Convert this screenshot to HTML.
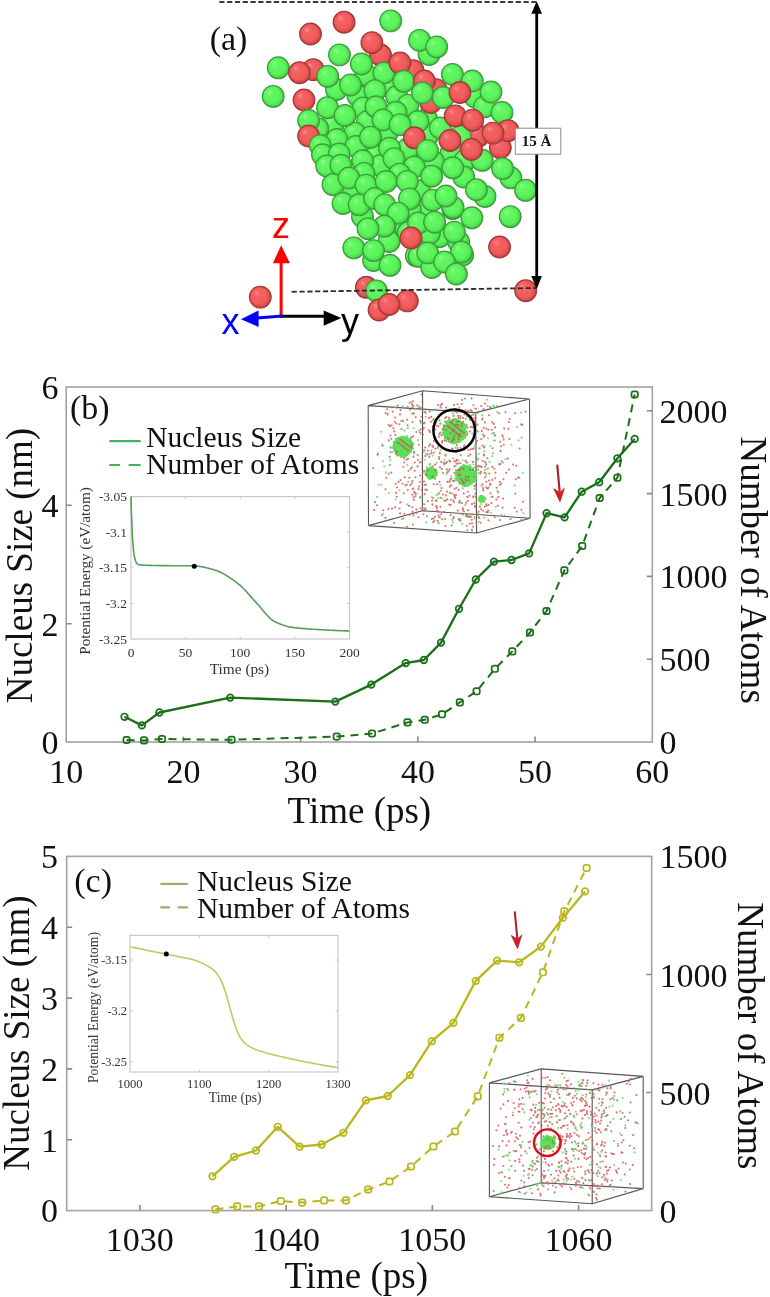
<!DOCTYPE html>
<html><head><meta charset="utf-8"><title>Nucleation figure</title>
<style>
html,body{margin:0;padding:0;background:#fff;}
body{width:770px;height:1297px;overflow:hidden;}
svg{display:block;}
</style></head><body>
<svg width="770" height="1297" viewBox="0 0 770 1297">
<defs><filter id="soft2" x="-5%" y="-5%" width="110%" height="110%"><feGaussianBlur stdDeviation="0.45"/></filter></defs>
<rect width="770" height="1297" fill="#fff"/>
<defs>
<radialGradient id="gG" cx="0.5" cy="0.5" r="0.5" fx="0.3" fy="0.27">
<stop offset="0" stop-color="#98fb98"/><stop offset="0.28" stop-color="#62f862"/><stop offset="0.72" stop-color="#5af35a"/><stop offset="0.88" stop-color="#50de50"/><stop offset="1" stop-color="#3aa63a"/></radialGradient>
<radialGradient id="gR" cx="0.5" cy="0.5" r="0.5" fx="0.3" fy="0.27">
<stop offset="0" stop-color="#fa9090"/><stop offset="0.28" stop-color="#f66262"/><stop offset="0.72" stop-color="#f05a5a"/><stop offset="0.88" stop-color="#dc4e4e"/><stop offset="1" stop-color="#aa3c3c"/></radialGradient>
<filter id="soft" x="-5%" y="-5%" width="110%" height="110%"><feGaussianBlur stdDeviation="0.45"/></filter>
</defs>
<g filter="url(#soft)">
<circle cx="419.5" cy="190.8" r="10.9" fill="url(#gG)" stroke="#3c9c3c" stroke-width="1.1"/>
<circle cx="398.7" cy="175.2" r="10.9" fill="url(#gG)" stroke="#3c9c3c" stroke-width="1.1"/>
<circle cx="411.2" cy="211.6" r="10.9" fill="url(#gG)" stroke="#3c9c3c" stroke-width="1.1"/>
<circle cx="419.5" cy="219.9" r="10.9" fill="url(#gG)" stroke="#3c9c3c" stroke-width="1.1"/>
<circle cx="428.8" cy="233.4" r="10.9" fill="url(#gG)" stroke="#3c9c3c" stroke-width="1.1"/>
<circle cx="389.4" cy="240.6" r="10.9" fill="url(#gG)" stroke="#3c9c3c" stroke-width="1.1"/>
<circle cx="406.0" cy="229.2" r="10.9" fill="url(#gG)" stroke="#3c9c3c" stroke-width="1.1"/>
<circle cx="439.5" cy="236.6" r="10.9" fill="url(#gG)" stroke="#3c9c3c" stroke-width="1.1"/>
<circle cx="422.3" cy="235.0" r="10.9" fill="url(#gG)" stroke="#3c9c3c" stroke-width="1.1"/>
<circle cx="423.9" cy="211.7" r="10.9" fill="url(#gG)" stroke="#3c9c3c" stroke-width="1.1"/>
<circle cx="452.7" cy="208.6" r="10.9" fill="url(#gG)" stroke="#3c9c3c" stroke-width="1.1"/>
<circle cx="380.5" cy="55.0" r="10.9" fill="url(#gR)" stroke="#a03a3a" stroke-width="1.1"/>
<circle cx="313.2" cy="69.6" r="10.9" fill="url(#gR)" stroke="#a03a3a" stroke-width="1.1"/>
<circle cx="365.8" cy="74.8" r="10.9" fill="url(#gG)" stroke="#3c9c3c" stroke-width="1.1"/>
<circle cx="390.8" cy="87.3" r="10.9" fill="url(#gG)" stroke="#3c9c3c" stroke-width="1.1"/>
<circle cx="336.5" cy="89.5" r="10.9" fill="url(#gG)" stroke="#3c9c3c" stroke-width="1.1"/>
<circle cx="358.0" cy="95.8" r="10.9" fill="url(#gG)" stroke="#3c9c3c" stroke-width="1.1"/>
<circle cx="396.8" cy="96.5" r="10.9" fill="url(#gG)" stroke="#3c9c3c" stroke-width="1.1"/>
<circle cx="407.9" cy="105.2" r="10.9" fill="url(#gG)" stroke="#3c9c3c" stroke-width="1.1"/>
<circle cx="363.0" cy="108.0" r="10.9" fill="url(#gG)" stroke="#3c9c3c" stroke-width="1.1"/>
<circle cx="367.5" cy="121.5" r="10.9" fill="url(#gG)" stroke="#3c9c3c" stroke-width="1.1"/>
<circle cx="426.6" cy="119.2" r="10.9" fill="url(#gG)" stroke="#3c9c3c" stroke-width="1.1"/>
<circle cx="333.1" cy="124.7" r="10.9" fill="url(#gG)" stroke="#3c9c3c" stroke-width="1.1"/>
<circle cx="354.9" cy="133.2" r="10.9" fill="url(#gG)" stroke="#3c9c3c" stroke-width="1.1"/>
<circle cx="387.7" cy="131.7" r="10.9" fill="url(#gG)" stroke="#3c9c3c" stroke-width="1.1"/>
<circle cx="428.2" cy="134.8" r="10.9" fill="url(#gG)" stroke="#3c9c3c" stroke-width="1.1"/>
<circle cx="407.9" cy="148.8" r="10.9" fill="url(#gG)" stroke="#3c9c3c" stroke-width="1.1"/>
<circle cx="317.7" cy="128.6" r="10.9" fill="url(#gG)" stroke="#3c9c3c" stroke-width="1.1"/>
<circle cx="376.4" cy="155.6" r="10.9" fill="url(#gG)" stroke="#3c9c3c" stroke-width="1.1"/>
<circle cx="380.5" cy="165.5" r="10.9" fill="url(#gG)" stroke="#3c9c3c" stroke-width="1.1"/>
<circle cx="353.0" cy="186.8" r="10.9" fill="url(#gG)" stroke="#3c9c3c" stroke-width="1.1"/>
<circle cx="451.0" cy="153.3" r="10.9" fill="url(#gG)" stroke="#3c9c3c" stroke-width="1.1"/>
<circle cx="465.2" cy="160.3" r="10.9" fill="url(#gG)" stroke="#3c9c3c" stroke-width="1.1"/>
<circle cx="510.8" cy="177.8" r="10.9" fill="url(#gG)" stroke="#3c9c3c" stroke-width="1.1"/>
<circle cx="433.5" cy="161.6" r="10.9" fill="url(#gG)" stroke="#3c9c3c" stroke-width="1.1"/>
<circle cx="463.7" cy="177.0" r="10.9" fill="url(#gG)" stroke="#3c9c3c" stroke-width="1.1"/>
<circle cx="485.0" cy="196.5" r="10.9" fill="url(#gG)" stroke="#3c9c3c" stroke-width="1.1"/>
<circle cx="453.1" cy="207.4" r="10.9" fill="url(#gG)" stroke="#3c9c3c" stroke-width="1.1"/>
<circle cx="458.6" cy="241.8" r="10.9" fill="url(#gG)" stroke="#3c9c3c" stroke-width="1.1"/>
<circle cx="429.4" cy="233.5" r="10.9" fill="url(#gG)" stroke="#3c9c3c" stroke-width="1.1"/>
<circle cx="362.5" cy="216.6" r="10.9" fill="url(#gG)" stroke="#3c9c3c" stroke-width="1.1"/>
<circle cx="410.4" cy="209.4" r="10.9" fill="url(#gG)" stroke="#3c9c3c" stroke-width="1.1"/>
<circle cx="408.2" cy="232.7" r="10.9" fill="url(#gG)" stroke="#3c9c3c" stroke-width="1.1"/>
<circle cx="389.0" cy="241.5" r="10.9" fill="url(#gG)" stroke="#3c9c3c" stroke-width="1.1"/>
<circle cx="373.6" cy="260.5" r="10.9" fill="url(#gG)" stroke="#3c9c3c" stroke-width="1.1"/>
<circle cx="416.4" cy="255.9" r="10.9" fill="url(#gG)" stroke="#3c9c3c" stroke-width="1.1"/>
<circle cx="462.7" cy="255.0" r="10.9" fill="url(#gG)" stroke="#3c9c3c" stroke-width="1.1"/>
<circle cx="419.1" cy="256.4" r="10.9" fill="url(#gG)" stroke="#3c9c3c" stroke-width="1.1"/>
<circle cx="431.8" cy="267.5" r="10.9" fill="url(#gG)" stroke="#3c9c3c" stroke-width="1.1"/>
<circle cx="429.1" cy="54.5" r="10.9" fill="url(#gG)" stroke="#3c9c3c" stroke-width="1.1"/>
<circle cx="413.1" cy="70.6" r="10.9" fill="url(#gR)" stroke="#a03a3a" stroke-width="1.1"/>
<circle cx="436.0" cy="89.6" r="10.9" fill="url(#gR)" stroke="#a03a3a" stroke-width="1.1"/>
<circle cx="430.7" cy="102.5" r="10.9" fill="url(#gR)" stroke="#a03a3a" stroke-width="1.1"/>
<circle cx="478.7" cy="136.0" r="10.9" fill="url(#gR)" stroke="#a03a3a" stroke-width="1.1"/>
<circle cx="460.5" cy="136.4" r="10.9" fill="url(#gG)" stroke="#3c9c3c" stroke-width="1.1"/>
<circle cx="475.0" cy="97.0" r="10.9" fill="url(#gG)" stroke="#3c9c3c" stroke-width="1.1"/>
<circle cx="484.5" cy="106.8" r="10.9" fill="url(#gG)" stroke="#3c9c3c" stroke-width="1.1"/>
<circle cx="500.3" cy="147.6" r="10.9" fill="url(#gR)" stroke="#a03a3a" stroke-width="1.1"/>
<circle cx="482.2" cy="160.3" r="10.9" fill="url(#gG)" stroke="#3c9c3c" stroke-width="1.1"/>
<circle cx="310.5" cy="34.0" r="10.9" fill="url(#gR)" stroke="#a03a3a" stroke-width="1.1"/>
<circle cx="344.1" cy="22.2" r="10.9" fill="url(#gR)" stroke="#a03a3a" stroke-width="1.1"/>
<circle cx="390.7" cy="20.9" r="10.9" fill="url(#gG)" stroke="#3c9c3c" stroke-width="1.1"/>
<circle cx="371.9" cy="42.7" r="10.9" fill="url(#gR)" stroke="#a03a3a" stroke-width="1.1"/>
<circle cx="339.5" cy="54.9" r="10.9" fill="url(#gG)" stroke="#3c9c3c" stroke-width="1.1"/>
<circle cx="278.3" cy="67.8" r="10.9" fill="url(#gG)" stroke="#3c9c3c" stroke-width="1.1"/>
<circle cx="299.5" cy="72.7" r="10.9" fill="url(#gR)" stroke="#a03a3a" stroke-width="1.1"/>
<circle cx="327.7" cy="76.4" r="10.9" fill="url(#gG)" stroke="#3c9c3c" stroke-width="1.1"/>
<circle cx="361.4" cy="64.0" r="10.9" fill="url(#gG)" stroke="#3c9c3c" stroke-width="1.1"/>
<circle cx="350.5" cy="85.0" r="10.9" fill="url(#gG)" stroke="#3c9c3c" stroke-width="1.1"/>
<circle cx="384.0" cy="73.0" r="10.9" fill="url(#gG)" stroke="#3c9c3c" stroke-width="1.1"/>
<circle cx="375.0" cy="90.6" r="10.9" fill="url(#gG)" stroke="#3c9c3c" stroke-width="1.1"/>
<circle cx="419.6" cy="40.4" r="10.9" fill="url(#gG)" stroke="#3c9c3c" stroke-width="1.1"/>
<circle cx="436.7" cy="46.9" r="10.9" fill="url(#gG)" stroke="#3c9c3c" stroke-width="1.1"/>
<circle cx="400.0" cy="63.0" r="10.9" fill="url(#gR)" stroke="#a03a3a" stroke-width="1.1"/>
<circle cx="403.8" cy="81.3" r="10.9" fill="url(#gG)" stroke="#3c9c3c" stroke-width="1.1"/>
<circle cx="424.4" cy="81.0" r="10.9" fill="url(#gR)" stroke="#a03a3a" stroke-width="1.1"/>
<circle cx="422.4" cy="93.0" r="10.9" fill="url(#gG)" stroke="#3c9c3c" stroke-width="1.1"/>
<circle cx="443.2" cy="97.5" r="10.9" fill="url(#gG)" stroke="#3c9c3c" stroke-width="1.1"/>
<circle cx="452.4" cy="74.4" r="10.9" fill="url(#gG)" stroke="#3c9c3c" stroke-width="1.1"/>
<circle cx="472.3" cy="81.0" r="10.9" fill="url(#gG)" stroke="#3c9c3c" stroke-width="1.1"/>
<circle cx="459.9" cy="92.5" r="10.9" fill="url(#gR)" stroke="#a03a3a" stroke-width="1.1"/>
<circle cx="491.0" cy="92.0" r="10.9" fill="url(#gG)" stroke="#3c9c3c" stroke-width="1.1"/>
<circle cx="502.0" cy="112.5" r="10.9" fill="url(#gG)" stroke="#3c9c3c" stroke-width="1.1"/>
<circle cx="273.2" cy="96.4" r="10.9" fill="url(#gG)" stroke="#3c9c3c" stroke-width="1.1"/>
<circle cx="304.0" cy="100.0" r="10.9" fill="url(#gR)" stroke="#a03a3a" stroke-width="1.1"/>
<circle cx="327.5" cy="107.7" r="10.9" fill="url(#gG)" stroke="#3c9c3c" stroke-width="1.1"/>
<circle cx="345.0" cy="115.5" r="10.9" fill="url(#gG)" stroke="#3c9c3c" stroke-width="1.1"/>
<circle cx="308.6" cy="120.5" r="10.9" fill="url(#gG)" stroke="#3c9c3c" stroke-width="1.1"/>
<circle cx="308.6" cy="136.0" r="10.9" fill="url(#gR)" stroke="#a03a3a" stroke-width="1.1"/>
<circle cx="337.0" cy="139.5" r="10.9" fill="url(#gG)" stroke="#3c9c3c" stroke-width="1.1"/>
<circle cx="376.0" cy="106.8" r="10.9" fill="url(#gG)" stroke="#3c9c3c" stroke-width="1.1"/>
<circle cx="396.0" cy="112.3" r="10.9" fill="url(#gG)" stroke="#3c9c3c" stroke-width="1.1"/>
<circle cx="383.0" cy="120.0" r="10.9" fill="url(#gG)" stroke="#3c9c3c" stroke-width="1.1"/>
<circle cx="355.8" cy="146.5" r="10.9" fill="url(#gG)" stroke="#3c9c3c" stroke-width="1.1"/>
<circle cx="370.5" cy="137.2" r="10.9" fill="url(#gG)" stroke="#3c9c3c" stroke-width="1.1"/>
<circle cx="418.0" cy="121.5" r="10.9" fill="url(#gG)" stroke="#3c9c3c" stroke-width="1.1"/>
<circle cx="400.1" cy="124.7" r="10.9" fill="url(#gG)" stroke="#3c9c3c" stroke-width="1.1"/>
<circle cx="440.3" cy="128.0" r="10.9" fill="url(#gG)" stroke="#3c9c3c" stroke-width="1.1"/>
<circle cx="455.2" cy="115.9" r="10.9" fill="url(#gR)" stroke="#a03a3a" stroke-width="1.1"/>
<circle cx="472.7" cy="120.2" r="10.9" fill="url(#gR)" stroke="#a03a3a" stroke-width="1.1"/>
<circle cx="508.0" cy="130.7" r="10.9" fill="url(#gR)" stroke="#a03a3a" stroke-width="1.1"/>
<circle cx="493.0" cy="133.1" r="10.9" fill="url(#gR)" stroke="#a03a3a" stroke-width="1.1"/>
<circle cx="471.5" cy="149.4" r="10.9" fill="url(#gR)" stroke="#a03a3a" stroke-width="1.1"/>
<circle cx="450.0" cy="140.5" r="10.9" fill="url(#gR)" stroke="#a03a3a" stroke-width="1.1"/>
<circle cx="414.4" cy="137.8" r="10.9" fill="url(#gR)" stroke="#a03a3a" stroke-width="1.1"/>
<circle cx="389.5" cy="148.3" r="10.9" fill="url(#gG)" stroke="#3c9c3c" stroke-width="1.1"/>
<circle cx="427.6" cy="150.6" r="10.9" fill="url(#gG)" stroke="#3c9c3c" stroke-width="1.1"/>
<circle cx="320.3" cy="145.5" r="10.9" fill="url(#gG)" stroke="#3c9c3c" stroke-width="1.1"/>
<circle cx="322.5" cy="154.8" r="10.9" fill="url(#gG)" stroke="#3c9c3c" stroke-width="1.1"/>
<circle cx="339.2" cy="154.0" r="10.9" fill="url(#gG)" stroke="#3c9c3c" stroke-width="1.1"/>
<circle cx="362.7" cy="160.8" r="10.9" fill="url(#gG)" stroke="#3c9c3c" stroke-width="1.1"/>
<circle cx="394.0" cy="158.6" r="10.9" fill="url(#gG)" stroke="#3c9c3c" stroke-width="1.1"/>
<circle cx="414.3" cy="167.0" r="10.9" fill="url(#gG)" stroke="#3c9c3c" stroke-width="1.1"/>
<circle cx="326.7" cy="166.0" r="10.9" fill="url(#gG)" stroke="#3c9c3c" stroke-width="1.1"/>
<circle cx="340.9" cy="165.3" r="10.9" fill="url(#gG)" stroke="#3c9c3c" stroke-width="1.1"/>
<circle cx="364.0" cy="173.4" r="10.9" fill="url(#gG)" stroke="#3c9c3c" stroke-width="1.1"/>
<circle cx="399.6" cy="174.2" r="10.9" fill="url(#gG)" stroke="#3c9c3c" stroke-width="1.1"/>
<circle cx="333.0" cy="184.7" r="10.9" fill="url(#gG)" stroke="#3c9c3c" stroke-width="1.1"/>
<circle cx="349.0" cy="178.0" r="10.9" fill="url(#gG)" stroke="#3c9c3c" stroke-width="1.1"/>
<circle cx="366.0" cy="185.1" r="10.9" fill="url(#gG)" stroke="#3c9c3c" stroke-width="1.1"/>
<circle cx="386.2" cy="181.5" r="10.9" fill="url(#gG)" stroke="#3c9c3c" stroke-width="1.1"/>
<circle cx="407.4" cy="181.4" r="10.9" fill="url(#gG)" stroke="#3c9c3c" stroke-width="1.1"/>
<circle cx="431.7" cy="176.2" r="10.9" fill="url(#gG)" stroke="#3c9c3c" stroke-width="1.1"/>
<circle cx="432.6" cy="200.2" r="10.9" fill="url(#gG)" stroke="#3c9c3c" stroke-width="1.1"/>
<circle cx="452.8" cy="167.8" r="10.9" fill="url(#gG)" stroke="#3c9c3c" stroke-width="1.1"/>
<circle cx="502.6" cy="168.6" r="10.9" fill="url(#gG)" stroke="#3c9c3c" stroke-width="1.1"/>
<circle cx="525.6" cy="190.3" r="10.9" fill="url(#gG)" stroke="#3c9c3c" stroke-width="1.1"/>
<circle cx="476.4" cy="189.7" r="10.9" fill="url(#gG)" stroke="#3c9c3c" stroke-width="1.1"/>
<circle cx="446.0" cy="196.0" r="10.9" fill="url(#gG)" stroke="#3c9c3c" stroke-width="1.1"/>
<circle cx="343.0" cy="203.5" r="10.9" fill="url(#gG)" stroke="#3c9c3c" stroke-width="1.1"/>
<circle cx="359.2" cy="204.8" r="10.9" fill="url(#gG)" stroke="#3c9c3c" stroke-width="1.1"/>
<circle cx="374.6" cy="198.5" r="10.9" fill="url(#gG)" stroke="#3c9c3c" stroke-width="1.1"/>
<circle cx="384.7" cy="204.8" r="10.9" fill="url(#gG)" stroke="#3c9c3c" stroke-width="1.1"/>
<circle cx="409.5" cy="198.9" r="10.9" fill="url(#gG)" stroke="#3c9c3c" stroke-width="1.1"/>
<circle cx="398.2" cy="213.2" r="10.9" fill="url(#gG)" stroke="#3c9c3c" stroke-width="1.1"/>
<circle cx="384.4" cy="226.2" r="10.9" fill="url(#gG)" stroke="#3c9c3c" stroke-width="1.1"/>
<circle cx="368.0" cy="228.7" r="10.9" fill="url(#gG)" stroke="#3c9c3c" stroke-width="1.1"/>
<circle cx="418.5" cy="223.0" r="10.9" fill="url(#gG)" stroke="#3c9c3c" stroke-width="1.1"/>
<circle cx="434.6" cy="222.2" r="10.9" fill="url(#gG)" stroke="#3c9c3c" stroke-width="1.1"/>
<circle cx="454.4" cy="232.1" r="10.9" fill="url(#gG)" stroke="#3c9c3c" stroke-width="1.1"/>
<circle cx="471.9" cy="217.8" r="10.9" fill="url(#gG)" stroke="#3c9c3c" stroke-width="1.1"/>
<circle cx="510.2" cy="216.6" r="10.9" fill="url(#gG)" stroke="#3c9c3c" stroke-width="1.1"/>
<circle cx="499.6" cy="247.0" r="10.9" fill="url(#gR)" stroke="#a03a3a" stroke-width="1.1"/>
<circle cx="411.0" cy="238.0" r="10.9" fill="url(#gR)" stroke="#a03a3a" stroke-width="1.1"/>
<circle cx="353.8" cy="247.9" r="10.9" fill="url(#gG)" stroke="#3c9c3c" stroke-width="1.1"/>
<circle cx="373.6" cy="250.6" r="10.9" fill="url(#gG)" stroke="#3c9c3c" stroke-width="1.1"/>
<circle cx="390.0" cy="265.3" r="10.9" fill="url(#gG)" stroke="#3c9c3c" stroke-width="1.1"/>
<circle cx="427.7" cy="253.0" r="10.9" fill="url(#gG)" stroke="#3c9c3c" stroke-width="1.1"/>
<circle cx="461.5" cy="252.0" r="10.9" fill="url(#gG)" stroke="#3c9c3c" stroke-width="1.1"/>
<circle cx="444.5" cy="262.0" r="10.9" fill="url(#gG)" stroke="#3c9c3c" stroke-width="1.1"/>
<circle cx="456.4" cy="274.0" r="10.9" fill="url(#gG)" stroke="#3c9c3c" stroke-width="1.1"/>
<circle cx="366.4" cy="287.3" r="10.9" fill="url(#gR)" stroke="#a03a3a" stroke-width="1.1"/>
<circle cx="376.4" cy="290.9" r="10.9" fill="url(#gG)" stroke="#3c9c3c" stroke-width="1.1"/>
<circle cx="407.3" cy="300.9" r="10.9" fill="url(#gR)" stroke="#a03a3a" stroke-width="1.1"/>
<circle cx="379.1" cy="310.0" r="10.9" fill="url(#gR)" stroke="#a03a3a" stroke-width="1.1"/>
<circle cx="389.1" cy="304.5" r="10.9" fill="url(#gR)" stroke="#a03a3a" stroke-width="1.1"/>
<circle cx="525.7" cy="290.7" r="10.9" fill="url(#gR)" stroke="#a03a3a" stroke-width="1.1"/>
<circle cx="260.3" cy="297.1" r="10.9" fill="url(#gR)" stroke="#a03a3a" stroke-width="1.1"/>
</g>
<path d="M219.3 2H536.4" stroke="#3a3a3a" stroke-width="2" stroke-dasharray="5.2 2.6"/>
<path d="M291.7 291.8L536.4 288" stroke="#2a2a2a" stroke-width="1.8" stroke-dasharray="5.2 2.6"/>
<path d="M536.7 12V278" stroke="#000" stroke-width="2.8"/>
<path d="M531.3 13.8L536.7 1.2L542 13.8Z" fill="#000"/>
<path d="M531.3 276L536.7 289L542 276Z" fill="#000"/>
<rect x="515.3" y="128.2" width="45.5" height="26" fill="#fff" stroke="#8c8c8c" stroke-width="1"/>
<text x="536.6" y="145.6" font-family="'Liberation Serif','Times New Roman',serif" font-size="15" text-anchor="middle" fill="#111" font-weight="bold">15 &#197;</text>
<text x="209.7" y="50.0" font-family="'Liberation Serif','Times New Roman',serif" font-size="34" text-anchor="start" fill="#111" font-weight="normal">(a)</text>
<path d="M281.1 316V262" stroke="#ff0000" stroke-width="3"/>
<path d="M272.9 263.2L281.1 245.3L289.9 263.2Z" fill="#ff0000"/>
<path d="M279.6 316.2H324.5" stroke="#000" stroke-width="3"/>
<path d="M323.7 310.4L341.3 318.1L323.7 325.8Z" fill="#000"/>
<path d="M282.6 316L257 318" stroke="#0000ff" stroke-width="3"/>
<path d="M258.6 310.4L240.9 319.2L258.6 327Z" fill="#0000ff"/>
<text x="272.0" y="237.5" font-family="'Liberation Sans',Arial,sans-serif" font-size="36" text-anchor="start" fill="#ff0000" font-weight="normal">z</text>
<text x="341.0" y="333.5" font-family="'Liberation Sans',Arial,sans-serif" font-size="36" text-anchor="start" fill="#000" font-weight="normal">y</text>
<text x="221.5" y="333.6" font-family="'Liberation Sans',Arial,sans-serif" font-size="36" text-anchor="start" fill="#0000ff" font-weight="normal">x</text>
<rect x="66.2" y="387.0" width="586.1" height="355.0" fill="none" stroke="#a2a2a2" stroke-width="1.6"/>
<path d="M183.4 742.0V736.5M300.6 742.0V736.5M417.9 742.0V736.5M535.1 742.0V736.5M66.2 623.7H71.7M66.2 505.3H71.7M652.3 659.2H646.8M652.3 576.4H646.8M652.3 493.6H646.8M652.3 410.8H646.8" stroke="#8a8a8a" stroke-width="1.6" fill="none"/>
<text x="66.2" y="782.5" font-family="'Liberation Serif','Times New Roman',serif" font-size="34" text-anchor="middle" fill="#111" font-weight="normal">10</text>
<text x="183.4" y="782.5" font-family="'Liberation Serif','Times New Roman',serif" font-size="34" text-anchor="middle" fill="#111" font-weight="normal">20</text>
<text x="300.6" y="782.5" font-family="'Liberation Serif','Times New Roman',serif" font-size="34" text-anchor="middle" fill="#111" font-weight="normal">30</text>
<text x="417.9" y="782.5" font-family="'Liberation Serif','Times New Roman',serif" font-size="34" text-anchor="middle" fill="#111" font-weight="normal">40</text>
<text x="535.1" y="782.5" font-family="'Liberation Serif','Times New Roman',serif" font-size="34" text-anchor="middle" fill="#111" font-weight="normal">50</text>
<text x="652.3" y="782.5" font-family="'Liberation Serif','Times New Roman',serif" font-size="34" text-anchor="middle" fill="#111" font-weight="normal">60</text>
<text x="58.5" y="753.8" font-family="'Liberation Serif','Times New Roman',serif" font-size="34" text-anchor="end" fill="#111" font-weight="normal">0</text>
<text x="58.5" y="635.5" font-family="'Liberation Serif','Times New Roman',serif" font-size="34" text-anchor="end" fill="#111" font-weight="normal">2</text>
<text x="58.5" y="517.1" font-family="'Liberation Serif','Times New Roman',serif" font-size="34" text-anchor="end" fill="#111" font-weight="normal">4</text>
<text x="58.5" y="398.8" font-family="'Liberation Serif','Times New Roman',serif" font-size="34" text-anchor="end" fill="#111" font-weight="normal">6</text>
<text x="659.5" y="754.0" font-family="'Liberation Serif','Times New Roman',serif" font-size="34" text-anchor="start" fill="#111" font-weight="normal">0</text>
<text x="659.5" y="671.2" font-family="'Liberation Serif','Times New Roman',serif" font-size="34" text-anchor="start" fill="#111" font-weight="normal">500</text>
<text x="659.5" y="588.4" font-family="'Liberation Serif','Times New Roman',serif" font-size="34" text-anchor="start" fill="#111" font-weight="normal">1000</text>
<text x="659.5" y="505.6" font-family="'Liberation Serif','Times New Roman',serif" font-size="34" text-anchor="start" fill="#111" font-weight="normal">1500</text>
<text x="659.5" y="422.8" font-family="'Liberation Serif','Times New Roman',serif" font-size="34" text-anchor="start" fill="#111" font-weight="normal">2000</text>
<text x="359.4" y="822.9" font-family="'Liberation Serif','Times New Roman',serif" font-size="37" text-anchor="middle" fill="#111" font-weight="normal">Time (ps)</text>
<text x="31.8" y="565.5" font-family="'Liberation Serif','Times New Roman',serif" font-size="37" text-anchor="middle" fill="#111" font-weight="normal" transform="rotate(-90 31.8 565.5)">Nucleus Size (nm)</text>
<text x="741.0" y="570.2" font-family="'Liberation Serif','Times New Roman',serif" font-size="37" text-anchor="middle" fill="#111" font-weight="normal" transform="rotate(90 741.0 570.2)">Number of Atoms</text>
<text x="70.0" y="418.6" font-family="'Liberation Serif','Times New Roman',serif" font-size="34" text-anchor="start" fill="#111" font-weight="normal">(b)</text>
<path d="M109.3 441.1H140.7" stroke="#44b556" stroke-width="2.2"/>
<path d="M109.3 465H120M128.6 465H140.7" stroke="#44b556" stroke-width="2.2"/>
<text x="146.2" y="447.0" font-family="'Liberation Serif','Times New Roman',serif" font-size="29.5" text-anchor="start" fill="#111" font-weight="normal">Nucleus Size</text>
<text x="146.2" y="474.3" font-family="'Liberation Serif','Times New Roman',serif" font-size="29.5" text-anchor="start" fill="#111" font-weight="normal">Number of Atoms</text>
<rect x="131.0" y="496.6" width="218.5" height="142.4" fill="#fff" stroke="#c4c4c4" stroke-width="1.1"/>
<path d="M185.6 639.0v-2.5M185.6 496.6v2.5M240.2 639.0v-2.5M240.2 496.6v2.5M294.9 639.0v-2.5M294.9 496.6v2.5M131.0 603.4h2.5M349.5 603.4h-2.5M131.0 567.8h2.5M349.5 567.8h-2.5M131.0 532.2h2.5M349.5 532.2h-2.5" stroke="#c4c4c4" stroke-width="1"/>
<text x="131.0" y="657.2" font-family="'Liberation Serif','Times New Roman',serif" font-size="13.5" text-anchor="middle" fill="#333" font-weight="normal">0</text>
<text x="185.6" y="657.2" font-family="'Liberation Serif','Times New Roman',serif" font-size="13.5" text-anchor="middle" fill="#333" font-weight="normal">50</text>
<text x="240.2" y="657.2" font-family="'Liberation Serif','Times New Roman',serif" font-size="13.5" text-anchor="middle" fill="#333" font-weight="normal">100</text>
<text x="294.9" y="657.2" font-family="'Liberation Serif','Times New Roman',serif" font-size="13.5" text-anchor="middle" fill="#333" font-weight="normal">150</text>
<text x="349.5" y="657.2" font-family="'Liberation Serif','Times New Roman',serif" font-size="13.5" text-anchor="middle" fill="#333" font-weight="normal">200</text>
<text x="127.0" y="501.2" font-family="'Liberation Serif','Times New Roman',serif" font-size="13.5" text-anchor="end" fill="#333" font-weight="normal">-3.05</text>
<text x="127.0" y="536.8" font-family="'Liberation Serif','Times New Roman',serif" font-size="13.5" text-anchor="end" fill="#333" font-weight="normal">-3.1</text>
<text x="127.0" y="572.4" font-family="'Liberation Serif','Times New Roman',serif" font-size="13.5" text-anchor="end" fill="#333" font-weight="normal">-3.15</text>
<text x="127.0" y="608.0" font-family="'Liberation Serif','Times New Roman',serif" font-size="13.5" text-anchor="end" fill="#333" font-weight="normal">-3.2</text>
<text x="127.0" y="643.6" font-family="'Liberation Serif','Times New Roman',serif" font-size="13.5" text-anchor="end" fill="#333" font-weight="normal">-3.25</text>
<text x="239.5" y="674.0" font-family="'Liberation Serif','Times New Roman',serif" font-size="15.3" text-anchor="middle" fill="#333" font-weight="normal">Time (ps)</text>
<text x="89.5" y="571.0" font-family="'Liberation Serif','Times New Roman',serif" font-size="15.2" text-anchor="middle" fill="#333" font-weight="normal" transform="rotate(-90 89.5 571.0)">Potential Energy (eV/atom)</text>
<path d="M131.0 496.6L131.1 500.9L131.2 504.9L131.3 508.7L131.4 512.3L131.5 515.6L131.7 518.7L131.8 521.6L131.9 524.4L132.0 526.9L132.1 529.4L132.2 531.6L132.3 533.7L132.4 535.7L132.5 537.6L132.6 539.3L132.7 541.0L132.9 542.5L133.0 543.9L133.1 545.3L133.2 546.5L133.3 547.7L133.4 548.8L133.5 549.9L133.6 550.9L133.7 551.8L133.8 552.6L133.9 553.4L134.1 554.2L134.2 554.9L134.3 555.6L134.4 556.2L134.5 556.8L134.6 557.3L134.7 557.8L134.8 558.3L134.9 558.7L135.0 559.2L135.2 559.6L135.3 559.9L135.4 560.3L135.5 560.6L135.6 560.9L135.7 561.2L135.8 561.5L135.9 561.7L136.0 562.0L136.1 562.2L136.2 562.4L136.4 562.6L136.5 562.8L136.6 562.9L136.7 563.1L136.8 563.2L136.9 563.4L137.0 563.5L137.1 563.6L137.2 563.8L137.3 563.9L137.4 564.0L137.6 564.1L137.6 564.1L138.6 564.4L139.6 564.7L140.6 564.9L141.6 565.0L142.6 565.1L143.6 565.1L144.6 565.2L145.6 565.2L146.6 565.3L147.6 565.3L148.6 565.4L149.6 565.4L150.6 565.4L151.6 565.4L152.6 565.5L153.6 565.5L154.6 565.5L155.6 565.5L156.6 565.5L157.6 565.5L158.6 565.6L159.6 565.6L160.6 565.6L161.6 565.6L162.6 565.6L163.6 565.6L164.6 565.6L165.6 565.6L166.6 565.6L167.6 565.6L168.6 565.6L169.6 565.7L170.6 565.7L171.6 565.7L172.6 565.7L173.6 565.7L174.6 565.7L175.6 565.7L176.6 565.7L177.6 565.7L178.6 565.7L179.6 565.7L180.6 565.7L181.6 565.7L182.6 565.7L183.6 565.7L184.6 565.8L185.6 565.8L186.6 565.8L187.6 565.8L188.6 565.8L189.6 565.8L190.6 565.8L191.6 565.9L192.6 565.9L193.6 565.9L194.6 565.9L195.6 566.0L196.6 566.1L197.6 566.2L198.6 566.3L199.6 566.4L200.6 566.6L201.6 566.7L202.6 566.9L203.6 567.1L204.6 567.3L205.6 567.6L206.6 567.8L207.6 568.0L208.6 568.3L209.6 568.6L210.6 568.8L211.6 569.1L212.6 569.4L213.6 569.7L214.6 570.0L215.6 570.3L216.6 570.6L217.6 571.0L218.6 571.4L219.6 571.8L220.6 572.3L221.6 572.8L222.6 573.3L223.6 573.9L224.6 574.4L225.6 575.0L226.6 575.6L227.6 576.3L228.6 576.9L229.6 577.6L230.6 578.3L231.6 579.0L232.6 579.7L233.6 580.4L234.6 581.1L235.6 581.9L236.6 582.6L237.6 583.4L238.6 584.1L239.6 584.9L240.6 585.8L241.6 586.7L242.6 587.7L243.6 588.7L244.6 589.7L245.6 590.8L246.6 591.9L247.6 593.0L248.6 594.1L249.6 595.3L250.6 596.4L251.6 597.6L252.6 598.7L253.6 599.8L254.6 600.9L255.6 602.0L256.6 603.1L257.6 604.1L258.6 605.3L259.6 606.4L260.6 607.6L261.6 608.8L262.6 610.0L263.6 611.2L264.6 612.4L265.6 613.6L266.6 614.7L267.6 615.8L268.6 616.9L269.6 617.9L270.6 618.8L271.6 619.6L272.6 620.3L273.6 621.0L274.6 621.5L275.6 622.0L276.6 622.5L277.6 623.0L278.6 623.4L279.6 623.8L280.6 624.2L281.6 624.6L282.6 625.0L283.6 625.3L284.6 625.6L285.6 625.9L286.6 626.2L287.6 626.5L288.6 626.7L289.6 626.9L290.6 627.1L291.6 627.3L292.6 627.4L293.6 627.6L294.6 627.7L295.6 627.8L296.6 627.9L297.6 628.0L298.6 628.1L299.6 628.2L300.6 628.3L301.6 628.4L302.6 628.5L303.6 628.6L304.6 628.7L305.6 628.7L306.6 628.8L307.6 628.9L308.6 629.0L309.6 629.0L310.6 629.1L311.6 629.2L312.6 629.2L313.6 629.3L314.6 629.3L315.6 629.4L316.6 629.5L317.6 629.5L318.6 629.6L319.6 629.6L320.6 629.7L321.6 629.7L322.6 629.8L323.6 629.9L324.6 629.9L325.6 630.0L326.6 630.0L327.6 630.1L328.6 630.1L329.6 630.2L330.6 630.2L331.6 630.3L332.6 630.3L333.6 630.4L334.6 630.4L335.6 630.5L336.6 630.5L337.6 630.6L338.6 630.6L339.6 630.7L340.6 630.7L341.6 630.7L342.6 630.8L343.6 630.8L344.6 630.9L345.6 630.9L346.6 630.9L347.6 630.9L348.6 631.0L349.3 631.0" stroke="#5a9e5a" stroke-width="1.6" fill="none"/>
<circle cx="194.3" cy="566.3" r="2.5" fill="#000"/>
<path d="M368.2 405.6L475.7 412.6M475.7 412.6L476.6 533.0M476.6 533.0L368.5 525.6M368.5 525.6L368.2 405.6M422.6 390.8L529.5 399.0M529.5 399.0L530.1 518.2M530.1 518.2L422.3 510.8M422.3 510.8L422.6 390.8M368.2 405.6L422.6 390.8M475.7 412.6L529.5 399.0M476.6 533.0L530.1 518.2M368.5 525.6L422.3 510.8" stroke="#555" stroke-width="1.1" fill="none"/>
<g filter="url(#soft2)">
<path d="M466.9 462.6h0.01M450.2 461.4h0.01M422.3 459.1h0.01M469.9 418.2h0.01M415.6 493.2h0.01M424.9 509.5h0.01M447.4 481.9h0.01M373.2 468.2h0.01M390.4 435.5h0.01M463.8 449.6h0.01M451.3 478.9h0.01M454.7 461.2h0.01M521.3 520.0h0.01M456.9 445.2h0.01M440.8 405.0h0.01M432.5 504.4h0.01M472.0 514.3h0.01M416.4 509.4h0.01M477.9 459.3h0.01M450.9 499.7h0.01M429.9 431.9h0.01M463.1 421.7h0.01M422.4 401.8h0.01M411.7 467.4h0.01M396.1 492.9h0.01M460.2 418.2h0.01M443.8 425.3h0.01M502.4 435.3h0.01M437.2 441.9h0.01M490.7 408.2h0.01M433.1 426.8h0.01M407.7 442.4h0.01M391.2 472.6h0.01M457.5 448.0h0.01M502.6 462.4h0.01M469.8 431.5h0.01M479.9 506.7h0.01M439.6 481.9h0.01M437.2 508.0h0.01M439.0 459.0h0.01M385.5 517.9h0.01M488.5 429.8h0.01M442.0 442.5h0.01M458.0 415.7h0.01M461.9 503.0h0.01M409.7 514.7h0.01M394.2 431.4h0.01M394.8 421.7h0.01M449.3 420.3h0.01M500.0 520.1h0.01M450.5 478.7h0.01M421.5 394.6h0.01M445.4 526.0h0.01M476.2 457.5h0.01M407.0 526.8h0.01M475.8 484.9h0.01M490.6 483.9h0.01M503.7 444.7h0.01M488.1 510.6h0.01M484.6 506.6h0.01M467.0 447.6h0.01M468.2 410.5h0.01M514.8 507.8h0.01M441.6 488.1h0.01M420.5 508.2h0.01M481.3 406.1h0.01M457.8 426.6h0.01M471.6 469.5h0.01M412.0 404.4h0.01M450.4 432.3h0.01M489.8 485.0h0.01M500.1 441.8h0.01M433.3 446.9h0.01M487.8 512.3h0.01M438.4 445.8h0.01M467.7 497.2h0.01M460.2 520.8h0.01M401.4 456.9h0.01M425.2 447.6h0.01M466.8 434.9h0.01M478.2 465.9h0.01M374.1 510.0h0.01M461.4 474.7h0.01M460.6 411.6h0.01M462.0 399.9h0.01M396.3 423.5h0.01M470.1 454.6h0.01M490.6 493.2h0.01M467.5 427.6h0.01M413.0 401.3h0.01M459.8 428.3h0.01M433.7 484.2h0.01M455.9 495.1h0.01M458.7 518.9h0.01M476.0 497.2h0.01M466.3 470.7h0.01M456.4 463.7h0.01M479.4 518.0h0.01M477.3 424.6h0.01M495.2 478.2h0.01M444.3 500.7h0.01M516.2 465.8h0.01M449.1 504.5h0.01M429.6 411.6h0.01M454.0 494.7h0.01M375.0 502.0h0.01M472.4 427.3h0.01M461.0 425.9h0.01M469.3 483.9h0.01M469.4 516.9h0.01M482.2 419.6h0.01M464.3 433.7h0.01M482.6 460.8h0.01M449.2 441.5h0.01M471.0 516.8h0.01M488.5 520.4h0.01M458.8 426.1h0.01M424.1 481.5h0.01M494.4 468.8h0.01M481.1 471.9h0.01M471.6 410.8h0.01M462.8 509.8h0.01M404.2 462.5h0.01M463.7 493.4h0.01M429.9 444.3h0.01M442.2 519.3h0.01M462.5 411.1h0.01M410.3 485.0h0.01M412.4 481.0h0.01M474.4 418.3h0.01M423.9 423.4h0.01M437.7 447.8h0.01M436.2 425.6h0.01M465.0 479.1h0.01M506.2 472.8h0.01M437.2 484.3h0.01M482.4 445.5h0.01M521.3 424.4h0.01M476.6 424.6h0.01M451.7 440.5h0.01M500.5 450.9h0.01M419.0 444.8h0.01M407.2 419.8h0.01M473.2 526.8h0.01M450.0 492.9h0.01M445.8 432.1h0.01M409.6 402.7h0.01M431.8 475.4h0.01M433.6 419.1h0.01M480.6 522.7h0.01M400.0 513.4h0.01M475.8 443.6h0.01M456.2 452.2h0.01M415.4 477.3h0.01M427.8 450.5h0.01M420.8 429.5h0.01M471.6 398.4h0.01M501.1 483.5h0.01M468.4 450.0h0.01M466.2 515.3h0.01M436.4 505.9h0.01M474.2 503.1h0.01M502.5 507.6h0.01M473.0 497.1h0.01M464.4 414.4h0.01M437.9 405.1h0.01M449.8 481.7h0.01M488.4 487.5h0.01M468.2 471.0h0.01M445.1 519.0h0.01M496.7 487.8h0.01M410.8 468.7h0.01M398.7 454.9h0.01M394.7 450.6h0.01M425.2 508.0h0.01M453.9 517.0h0.01M519.1 477.8h0.01M417.6 466.6h0.01M382.0 515.2h0.01M445.8 422.1h0.01M485.0 403.6h0.01M445.9 463.1h0.01M443.1 433.0h0.01M467.3 433.4h0.01M413.3 405.8h0.01M413.8 413.6h0.01M450.8 505.1h0.01M424.7 510.6h0.01M399.5 508.5h0.01M433.2 522.3h0.01M463.8 511.3h0.01M462.9 514.4h0.01M466.9 414.8h0.01M420.1 432.5h0.01M449.0 417.9h0.01M454.4 461.3h0.01M473.0 448.9h0.01M477.0 515.1h0.01M453.4 437.8h0.01M498.3 497.1h0.01M444.0 430.8h0.01M463.4 471.5h0.01M462.7 430.2h0.01M521.4 509.8h0.01M387.2 409.2h0.01M419.8 482.0h0.01M431.1 416.9h0.01M475.2 467.4h0.01M419.9 462.6h0.01M450.7 485.2h0.01M420.2 408.6h0.01M447.2 499.3h0.01M457.7 427.9h0.01M461.5 472.2h0.01M443.7 462.9h0.01M487.4 458.3h0.01M383.2 510.2h0.01M403.5 466.8h0.01M483.9 435.3h0.01M412.4 422.0h0.01M416.4 432.0h0.01M450.7 442.5h0.01M426.8 489.9h0.01M411.8 483.2h0.01M516.7 511.7h0.01M432.1 500.7h0.01M453.0 442.2h0.01M484.0 436.7h0.01M429.1 446.1h0.01M440.5 423.6h0.01M499.2 464.2h0.01M469.8 420.0h0.01M464.3 445.3h0.01M454.5 466.4h0.01M515.8 479.2h0.01M417.9 460.0h0.01M417.3 405.2h0.01M499.1 413.3h0.01M418.9 486.6h0.01M436.1 422.6h0.01M445.9 495.4h0.01M441.1 514.3h0.01M460.4 463.2h0.01M467.0 514.6h0.01M503.4 479.3h0.01M503.1 498.6h0.01M499.8 481.8h0.01M467.7 500.9h0.01M453.6 415.5h0.01M484.1 455.4h0.01M406.1 453.8h0.01M489.1 415.3h0.01M422.7 472.7h0.01M412.4 407.6h0.01M433.5 518.5h0.01M391.7 425.3h0.01M425.9 484.6h0.01M407.6 425.3h0.01M403.8 493.2h0.01M453.4 500.6h0.01M445.8 500.5h0.01M456.9 459.8h0.01M422.9 434.8h0.01M491.4 503.1h0.01M440.0 467.3h0.01M488.0 488.3h0.01M389.6 456.9h0.01M486.9 488.2h0.01M402.6 420.8h0.01M424.2 504.2h0.01M451.6 525.5h0.01M467.4 416.5h0.01M414.2 491.7h0.01M471.2 417.5h0.01M471.2 415.6h0.01M450.6 515.1h0.01M503.1 437.0h0.01M418.4 517.3h0.01M486.4 428.8h0.01M469.7 416.3h0.01M405.9 444.0h0.01M439.9 453.4h0.01M412.9 489.1h0.01M463.0 449.8h0.01M458.6 489.9h0.01M421.9 490.1h0.01M429.7 464.5h0.01M486.6 505.8h0.01M454.9 439.5h0.01M444.6 440.4h0.01M424.5 484.7h0.01M407.8 490.0h0.01M509.1 469.6h0.01M409.2 505.9h0.01M420.1 408.0h0.01M466.2 426.5h0.01M463.5 481.5h0.01M399.4 424.2h0.01M461.8 404.0h0.01M449.3 460.6h0.01M472.0 504.1h0.01M404.9 457.2h0.01M464.5 478.1h0.01M486.3 481.8h0.01M388.8 440.4h0.01M458.6 417.6h0.01M467.8 491.8h0.01M475.4 418.0h0.01M484.7 472.9h0.01M460.6 416.0h0.01M513.1 464.5h0.01M509.0 422.0h0.01M440.2 432.6h0.01M432.4 466.3h0.01M423.5 514.2h0.01M470.7 409.8h0.01M412.4 507.1h0.01M443.1 473.1h0.01M510.6 519.3h0.01M477.5 412.9h0.01M412.6 511.8h0.01M440.4 506.8h0.01M428.9 418.1h0.01M438.5 511.5h0.01M475.4 437.6h0.01M479.6 448.2h0.01M465.4 410.4h0.01M439.5 420.5h0.01M457.6 423.1h0.01M414.7 470.8h0.01M473.4 405.2h0.01M416.4 512.9h0.01M452.6 449.3h0.01M483.2 490.6h0.01M466.0 516.1h0.01M483.8 454.6h0.01M457.8 510.6h0.01M473.6 448.2h0.01M442.0 403.9h0.01M497.6 491.3h0.01M481.2 439.1h0.01M400.0 414.4h0.01M425.3 456.1h0.01M456.1 470.3h0.01M414.1 451.8h0.01M427.9 501.2h0.01M463.0 508.3h0.01M495.1 427.4h0.01M435.0 516.7h0.01M482.4 418.5h0.01M483.6 409.0h0.01M403.9 445.8h0.01M486.4 504.2h0.01M409.3 477.8h0.01M388.4 509.1h0.01M474.8 506.9h0.01M435.1 429.5h0.01M478.6 517.1h0.01M484.0 447.4h0.01M440.6 497.7h0.01M400.5 480.1h0.01M468.6 416.3h0.01M494.9 435.5h0.01M469.5 495.6h0.01M467.6 516.7h0.01M393.4 428.4h0.01M454.5 431.7h0.01M436.4 475.4h0.01M456.2 474.8h0.01M448.0 433.0h0.01M483.2 488.4h0.01M490.1 407.0h0.01M444.4 464.4h0.01M388.6 473.7h0.01M400.2 502.5h0.01M412.4 494.7h0.01M408.5 470.7h0.01M467.3 530.3h0.01M438.9 493.4h0.01M478.2 469.7h0.01M447.7 481.8h0.01M467.3 496.8h0.01M459.8 500.7h0.01M434.1 521.1h0.01M484.9 422.4h0.01M435.5 448.8h0.01M466.0 502.8h0.01M452.2 427.3h0.01M454.1 404.9h0.01M492.4 466.9h0.01M388.6 424.8h0.01M445.6 454.9h0.01M400.7 502.3h0.01M495.4 472.6h0.01M461.4 437.7h0.01M418.7 408.3h0.01M449.6 469.3h0.01M475.9 408.7h0.01M395.4 435.1h0.01M485.3 498.8h0.01M394.6 449.9h0.01M394.1 523.0h0.01M474.3 486.1h0.01M424.2 450.3h0.01M420.8 421.6h0.01M399.7 449.4h0.01M415.7 417.3h0.01M515.3 493.8h0.01M422.9 429.6h0.01M444.7 449.1h0.01M460.5 434.4h0.01M455.7 409.0h0.01M456.6 412.4h0.01M475.2 505.8h0.01M485.0 461.9h0.01M501.1 446.3h0.01M401.4 446.1h0.01M438.4 426.2h0.01M408.1 458.7h0.01M453.3 518.1h0.01M481.7 430.9h0.01M395.8 483.7h0.01M407.6 407.1h0.01M446.5 441.1h0.01M464.7 437.8h0.01M404.4 513.8h0.01M499.7 484.8h0.01M391.3 438.7h0.01M395.0 507.3h0.01M454.4 472.7h0.01M412.9 436.4h0.01M386.4 477.7h0.01M431.4 450.8h0.01M397.1 487.5h0.01M454.6 488.7h0.01M428.9 430.3h0.01M458.7 442.3h0.01M411.3 437.2h0.01M392.7 411.6h0.01M479.9 466.4h0.01M509.4 438.9h0.01M504.2 428.5h0.01M487.1 512.3h0.01M398.5 481.9h0.01M417.6 454.9h0.01M436.4 440.5h0.01M420.1 420.8h0.01M455.3 419.4h0.01M412.6 413.5h0.01M445.2 418.3h0.01M481.6 466.9h0.01M390.5 447.3h0.01M378.1 453.8h0.01M447.1 472.7h0.01M404.6 438.0h0.01M436.4 506.8h0.01M406.7 484.9h0.01M470.4 468.9h0.01M458.3 463.6h0.01M485.0 477.5h0.01M427.5 454.4h0.01M478.6 511.7h0.01M473.3 414.7h0.01M442.3 441.1h0.01M483.7 427.8h0.01M405.7 485.4h0.01M389.8 465.0h0.01M429.3 457.0h0.01M457.7 476.3h0.01M476.2 523.1h0.01M422.8 509.9h0.01M482.5 484.3h0.01M481.1 509.3h0.01M465.7 460.8h0.01M448.5 431.7h0.01M439.2 434.3h0.01M431.0 421.8h0.01M385.5 413.1h0.01M385.5 489.3h0.01M443.0 494.5h0.01M432.8 497.9h0.01M401.5 429.0h0.01M492.6 448.2h0.01M413.2 488.5h0.01M449.8 486.8h0.01M480.3 473.6h0.01M489.3 473.5h0.01M474.7 421.0h0.01M450.3 435.5h0.01M420.7 462.0h0.01M509.6 419.0h0.01M435.0 478.6h0.01M472.0 530.4h0.01M447.2 424.2h0.01M452.8 480.8h0.01M382.7 445.7h0.01M446.9 462.1h0.01M447.0 491.6h0.01M432.3 445.6h0.01M472.1 523.2h0.01M486.2 464.6h0.01M389.9 426.1h0.01M495.0 435.6h0.01M382.3 445.0h0.01M462.9 417.9h0.01M423.9 427.8h0.01M410.4 438.6h0.01M392.1 508.6h0.01M402.9 420.9h0.01M522.2 424.9h0.01M464.0 447.1h0.01M440.6 407.4h0.01M454.1 481.1h0.01M523.1 501.7h0.01M455.3 498.2h0.01M396.3 407.6h0.01M400.5 410.1h0.01M477.1 440.9h0.01M421.4 416.7h0.01M413.4 457.0h0.01M475.4 493.8h0.01M496.3 499.6h0.01M525.4 411.6h0.01M425.3 489.5h0.01M497.1 406.9h0.01M412.8 448.4h0.01M459.0 502.4h0.01M452.1 448.6h0.01M470.8 449.3h0.01M415.9 493.9h0.01M485.1 466.7h0.01M395.1 417.5h0.01M406.6 459.7h0.01M439.8 453.0h0.01M437.5 520.8h0.01M503.7 439.8h0.01M403.3 518.5h0.01M493.8 433.1h0.01M459.0 428.1h0.01M458.9 519.6h0.01M441.6 435.3h0.01M404.8 477.3h0.01M470.8 426.9h0.01M498.0 505.7h0.01M429.0 475.7h0.01M483.1 487.9h0.01M460.7 455.2h0.01M424.1 470.9h0.01M457.5 404.2h0.01M448.6 471.4h0.01M493.7 423.9h0.01M492.4 496.9h0.01M469.7 523.8h0.01M514.9 413.2h0.01M466.5 425.1h0.01M483.1 510.7h0.01M507.7 458.5h0.01M413.8 500.0h0.01M420.0 497.6h0.01M436.9 510.5h0.01M402.5 483.8h0.01M454.7 496.9h0.01M440.6 490.8h0.01M500.1 464.1h0.01M473.7 424.3h0.01M397.8 405.6h0.01M468.1 510.3h0.01M433.8 441.1h0.01M439.0 517.3h0.01M508.4 428.7h0.01M473.6 496.4h0.01M441.2 461.9h0.01M438.9 436.7h0.01M435.9 469.8h0.01M425.3 412.1h0.01M424.7 422.7h0.01M489.1 480.5h0.01M426.9 516.2h0.01M464.3 449.7h0.01M446.3 417.0h0.01M436.3 501.1h0.01M468.3 456.0h0.01M418.4 489.1h0.01M477.7 431.4h0.01M435.8 500.3h0.01M438.5 515.3h0.01M472.6 476.7h0.01M390.5 452.2h0.01M431.9 519.1h0.01M456.5 487.7h0.01M460.9 411.5h0.01M413.9 452.9h0.01M488.7 505.0h0.01M475.4 408.6h0.01M398.1 444.3h0.01M464.9 486.2h0.01M466.8 525.8h0.01M456.0 461.2h0.01M454.6 437.2h0.01M486.3 512.1h0.01M519.7 448.5h0.01M492.2 479.9h0.01M397.2 455.6h0.01M492.2 422.4h0.01M398.6 449.4h0.01M415.5 496.3h0.01M420.0 475.5h0.01M491.8 429.8h0.01M453.8 502.3h0.01M465.1 398.5h0.01M471.8 519.7h0.01M435.0 464.6h0.01M396.7 496.7h0.01M453.5 416.0h0.01M410.0 409.6h0.01M413.5 497.4h0.01M424.5 411.9h0.01M441.8 469.1h0.01M505.5 412.3h0.01M413.5 515.4h0.01M458.8 469.4h0.01M472.7 462.0h0.01M424.6 494.1h0.01M473.6 421.9h0.01M387.6 414.6h0.01M518.1 477.6h0.01M377.5 454.7h0.01M446.1 407.5h0.01M439.1 457.1h0.01M494.7 517.3h0.01M443.8 511.9h0.01M414.6 492.7h0.01M433.7 452.8h0.01M431.3 453.3h0.01M377.1 505.3h0.01M446.8 469.3h0.01M412.3 413.7h0.01M414.7 462.6h0.01M449.6 469.4h0.01M412.8 524.5h0.01" stroke="#d45a5a" stroke-width="2.1" stroke-linecap="round" fill="none" opacity="0.85"/>
<path d="M452.2 519.9h0.01M449.0 449.8h0.01M451.0 476.2h0.01M462.6 460.2h0.01M387.6 413.4h0.01M420.5 496.8h0.01M476.3 456.0h0.01M494.4 406.8h0.01M474.9 446.4h0.01M491.3 496.8h0.01M377.1 496.9h0.01M485.6 462.9h0.01M487.3 399.6h0.01M449.9 480.5h0.01M484.3 451.4h0.01M478.8 521.8h0.01M493.0 453.3h0.01M432.6 455.7h0.01M420.8 434.0h0.01M421.2 407.7h0.01M446.3 474.5h0.01M432.7 429.6h0.01M440.3 517.3h0.01M458.3 460.7h0.01M407.2 504.4h0.01M392.1 452.1h0.01M467.8 514.7h0.01M484.5 446.0h0.01M388.8 493.0h0.01M450.0 429.1h0.01M418.0 440.1h0.01M455.3 447.7h0.01M490.4 446.3h0.01M438.0 522.0h0.01M457.4 434.9h0.01M461.0 476.2h0.01M395.7 499.5h0.01M478.8 453.8h0.01M477.8 513.4h0.01M429.9 463.9h0.01M465.8 418.9h0.01M497.0 406.1h0.01M447.5 471.1h0.01M426.0 509.5h0.01M497.1 412.1h0.01M420.7 423.3h0.01M475.1 413.6h0.01M481.0 504.2h0.01M493.8 440.6h0.01M491.8 433.5h0.01M460.0 439.0h0.01M384.3 466.5h0.01M406.9 436.1h0.01M435.9 437.7h0.01M445.4 455.9h0.01M431.8 497.3h0.01M473.6 464.6h0.01M475.5 475.3h0.01M454.7 441.5h0.01M511.5 444.7h0.01M413.5 456.2h0.01M474.4 516.8h0.01M441.8 448.2h0.01M521.0 412.6h0.01M487.6 406.1h0.01M385.8 472.4h0.01M521.6 437.6h0.01M378.7 485.0h0.01M424.7 459.8h0.01M484.6 501.7h0.01M452.8 411.0h0.01M407.4 464.9h0.01M460.0 422.7h0.01M417.6 465.8h0.01M473.3 461.9h0.01M444.9 421.5h0.01M455.2 478.5h0.01M523.5 513.2h0.01M462.3 523.8h0.01M458.1 470.0h0.01M484.7 470.1h0.01M429.5 454.4h0.01M418.9 406.4h0.01M472.8 414.8h0.01M485.8 486.7h0.01M474.5 488.9h0.01M411.5 402.0h0.01M495.6 506.8h0.01M405.3 449.4h0.01M482.7 434.3h0.01M461.4 439.9h0.01M464.9 424.3h0.01M400.9 421.1h0.01M438.0 498.3h0.01M408.1 482.0h0.01M471.9 427.3h0.01M404.5 430.4h0.01M440.3 485.3h0.01M457.8 475.0h0.01M462.2 437.3h0.01M433.2 522.0h0.01M460.2 502.9h0.01M452.6 413.2h0.01M495.1 440.6h0.01M441.2 434.2h0.01M492.3 456.3h0.01M390.4 459.9h0.01M383.2 513.7h0.01M442.4 498.3h0.01M518.6 440.2h0.01M434.7 478.4h0.01M425.7 413.3h0.01M514.6 485.4h0.01M423.7 451.8h0.01M401.8 519.2h0.01M390.9 447.9h0.01M407.9 427.9h0.01M455.7 466.0h0.01M501.4 460.7h0.01M381.2 431.8h0.01M451.6 485.5h0.01M440.3 423.7h0.01M472.3 433.6h0.01M505.5 459.2h0.01M469.8 464.8h0.01M471.8 529.6h0.01M453.3 458.4h0.01M425.7 416.7h0.01M402.9 406.2h0.01M489.6 461.9h0.01M419.1 430.6h0.01M415.1 409.0h0.01M460.4 447.6h0.01M454.7 443.0h0.01M486.1 475.7h0.01M444.5 459.9h0.01M516.9 427.0h0.01M469.3 515.3h0.01M439.0 523.2h0.01M399.5 490.2h0.01M482.2 415.2h0.01M436.0 409.3h0.01M432.6 468.0h0.01M488.2 468.5h0.01M383.1 461.2h0.01M455.2 478.9h0.01M404.1 458.8h0.01M452.8 522.6h0.01M459.1 407.4h0.01M436.7 495.0h0.01M423.1 508.4h0.01M465.3 461.5h0.01M436.8 462.8h0.01M477.4 467.1h0.01M434.6 420.6h0.01M504.5 515.4h0.01M480.6 495.9h0.01M465.3 505.1h0.01M469.2 444.4h0.01M494.6 407.8h0.01M438.3 494.1h0.01M501.4 514.7h0.01M381.3 484.5h0.01M491.2 512.8h0.01M429.3 479.1h0.01M481.4 485.7h0.01M493.2 405.6h0.01M498.3 492.7h0.01M464.3 513.6h0.01M440.4 450.2h0.01M413.9 413.3h0.01M434.9 474.3h0.01M460.2 468.0h0.01M432.7 420.6h0.01M460.4 518.9h0.01M484.2 517.5h0.01M522.7 473.0h0.01M466.7 447.2h0.01M426.6 467.4h0.01M486.8 469.3h0.01M459.2 438.0h0.01M448.5 434.0h0.01M395.0 407.1h0.01M459.8 513.9h0.01M425.7 454.0h0.01M426.3 522.4h0.01M456.2 479.9h0.01M478.8 472.9h0.01M494.5 434.6h0.01M486.0 473.4h0.01M458.7 415.7h0.01M466.5 431.9h0.01M487.9 438.2h0.01M462.8 488.4h0.01M440.4 414.6h0.01M474.6 518.4h0.01M413.6 428.2h0.01M438.3 417.9h0.01M452.0 493.2h0.01M471.6 483.1h0.01" stroke="#62d862" stroke-width="2.1" stroke-linecap="round" fill="none" opacity="0.85"/>
<path d="M412.9 446.5L414.1 448.2L412.6 449.6L411.9 451.0L411.7 452.8L410.0 453.4L408.9 454.5L407.9 455.8L406.4 456.6L404.7 456.3L403.1 458.1L401.3 457.7L399.8 456.6L398.2 456.2L397.0 454.9L394.9 454.7L395.0 452.4L393.9 451.2L393.4 449.6L391.8 448.3L392.4 446.5L392.7 444.9L393.1 443.3L392.9 441.3L394.8 440.5L395.1 438.5L396.6 437.5L398.3 437.1L399.9 436.6L401.4 436.1L403.1 435.9L404.7 436.3L406.5 436.1L407.9 437.1L409.2 438.2L411.0 438.6L411.7 440.3L412.6 441.7L414.0 443.0L413.6 444.8Z" fill="#58e058"/>
<path d="M396.7 441.6L409.4 451.6" stroke="#c8604c" stroke-width="1.6" opacity="0.85"/>
<path d="M399.2 438.4L411.9 448.3" stroke="#c8604c" stroke-width="1.6" opacity="0.85"/>
<path d="M396.4 453.1h0.01M411.8 445.2h0.01M396.5 451.2h0.01" stroke="#c8584c" stroke-width="2" stroke-linecap="round" fill="none" opacity="0.85"/>
<path d="M467.3 431.2L466.2 433.1L466.6 435.2L466.3 437.3L464.7 438.7L463.4 440.2L461.6 441.1L460.2 442.5L458.0 442.4L456.4 444.0L454.4 443.7L452.3 444.5L450.7 442.6L448.6 442.7L447.8 440.3L445.8 439.8L443.9 438.8L443.9 436.6L442.4 435.1L442.8 433.0L442.3 431.2L441.1 429.1L443.3 427.6L442.5 425.2L445.2 424.5L445.5 422.3L446.7 420.6L448.4 419.5L450.7 419.7L452.4 418.8L454.4 418.3L456.4 418.4L458.4 418.9L460.1 420.0L461.3 421.6L463.5 422.1L464.5 423.8L465.5 425.5L467.2 427.0L465.8 429.4Z" fill="#58e058"/>
<path d="M446.9 425.5L461.7 437.1" stroke="#c8604c" stroke-width="1.6" opacity="0.85"/>
<path d="M449.9 421.8L464.6 433.3" stroke="#c8604c" stroke-width="1.6" opacity="0.85"/>
<path d="M455.7 424.8h0.01M452.8 420.1h0.01M453.1 439.8h0.01M446.4 429.8h0.01M458.9 439.1h0.01M461.7 425.4h0.01M451.9 441.2h0.01M450.6 433.3h0.01M448.3 426.4h0.01M443.2 429.1h0.01M444.2 426.5h0.01M448.4 439.2h0.01M460.0 434.1h0.01M451.0 422.3h0.01M457.8 425.0h0.01M453.4 438.0h0.01M452.7 430.8h0.01M447.8 437.8h0.01M458.2 436.4h0.01M462.1 423.2h0.01M454.4 436.1h0.01M456.9 433.5h0.01M457.1 421.7h0.01M453.7 439.2h0.01M453.8 429.4h0.01M458.9 421.5h0.01" stroke="#c8584c" stroke-width="2" stroke-linecap="round" fill="none" opacity="0.85"/>
<path d="M476.3 475.5L477.2 477.3L476.7 479.0L475.4 480.3L475.4 482.3L473.3 482.8L472.4 484.3L470.8 484.9L469.3 485.7L467.8 486.9L466.0 486.5L464.3 486.5L462.3 486.8L461.3 484.7L459.9 483.9L458.1 483.4L457.8 481.5L455.5 480.9L455.9 478.8L455.4 477.2L455.2 475.5L454.6 473.7L454.9 471.9L456.0 470.4L457.7 469.5L458.5 468.0L459.4 466.4L461.3 466.3L462.4 464.4L464.2 464.0L466.0 465.2L467.7 465.0L469.2 465.7L471.1 465.4L471.9 467.4L474.0 467.5L474.1 469.6L476.3 470.2L476.4 472.1L476.9 473.8Z" fill="#58e058"/>
<path d="M467.8 476.7h0.01M459.9 483.5h0.01M458.4 470.0h0.01M469.0 476.7h0.01M474.4 476.6h0.01M468.4 480.2h0.01M461.8 468.2h0.01M463.0 481.7h0.01M464.2 482.9h0.01M462.3 480.3h0.01M466.0 481.0h0.01M465.9 476.8h0.01M463.1 482.7h0.01M465.6 478.9h0.01M469.9 469.8h0.01M460.4 475.1h0.01M472.7 469.8h0.01M460.1 469.8h0.01M463.5 468.8h0.01M460.6 478.8h0.01M459.1 475.3h0.01M458.7 474.2h0.01" stroke="#c8584c" stroke-width="2" stroke-linecap="round" fill="none" opacity="0.85"/>
<path d="M437.8 473.0L437.8 474.0L436.8 474.8L436.3 475.6L436.1 476.5L435.2 477.0L435.1 478.3L434.1 478.7L433.1 478.7L432.1 478.8L431.2 479.7L430.2 479.5L429.2 479.1L428.3 478.8L427.4 478.3L426.8 477.4L426.2 476.6L425.6 475.9L424.9 475.1L424.5 474.1L424.5 473.0L424.7 472.0L425.7 471.2L425.9 470.3L425.7 469.0L426.8 468.6L427.5 467.9L428.5 467.6L429.1 466.7L430.2 466.8L431.2 466.2L432.1 467.3L433.3 466.5L433.8 467.9L434.6 468.3L435.5 468.7L436.4 469.2L436.4 470.4L437.2 471.1L437.9 471.9Z" fill="#58e058"/>
<path d="M426.5 475.0h0.01M427.5 470.6h0.01M433.0 476.5h0.01M435.1 470.2h0.01M432.0 476.8h0.01" stroke="#c8584c" stroke-width="2" stroke-linecap="round" fill="none" opacity="0.85"/>
<path d="M485.6 499.0L485.4 499.6L485.4 500.2L485.2 500.8L484.5 501.1L484.3 501.7L484.0 502.3L483.3 502.3L482.7 502.5L482.2 503.1L481.6 502.8L480.9 503.2L480.4 502.8L479.9 502.3L479.2 502.3L478.9 501.7L478.2 501.5L477.9 500.9L477.7 500.3L478.0 499.6L478.0 499.0L477.5 498.3L478.1 497.9L478.3 497.3L478.7 496.9L479.0 496.4L479.3 495.8L479.7 495.2L480.4 495.4L481.0 495.3L481.6 494.8L482.2 495.3L482.9 495.1L483.4 495.4L484.1 495.5L484.2 496.4L484.8 496.6L485.1 497.2L485.6 497.7L485.3 498.4Z" fill="#58e058"/>
</g>
<circle cx="454.2" cy="430.4" r="20.8" stroke="#000" stroke-width="2.5" fill="none"/>
<path d="M124.5 716.8L141.9 725.4L159.4 712.5L230.2 697.6L335.3 701.6L371.3 684.6L405.7 663.1L423.9 660.0L441.0 642.6L459.0 608.8L475.8 579.5L494.0 561.6L511.5 560.0L529.1 553.4L546.6 513.2L564.6 517.4L581.7 491.7L599.2 482.2L617.4 458.3L634.7 438.9" stroke="#197019" stroke-width="2.3" fill="none" stroke-linejoin="round"/>
<circle cx="124.5" cy="716.8" r="3.3" stroke="#197019" stroke-width="1.7" fill="none"/>
<circle cx="141.9" cy="725.4" r="3.3" stroke="#197019" stroke-width="1.7" fill="none"/>
<circle cx="159.4" cy="712.5" r="3.3" stroke="#197019" stroke-width="1.7" fill="none"/>
<circle cx="230.2" cy="697.6" r="3.3" stroke="#197019" stroke-width="1.7" fill="none"/>
<circle cx="335.3" cy="701.6" r="3.3" stroke="#197019" stroke-width="1.7" fill="none"/>
<circle cx="371.3" cy="684.6" r="3.3" stroke="#197019" stroke-width="1.7" fill="none"/>
<circle cx="405.7" cy="663.1" r="3.3" stroke="#197019" stroke-width="1.7" fill="none"/>
<circle cx="423.9" cy="660.0" r="3.3" stroke="#197019" stroke-width="1.7" fill="none"/>
<circle cx="441.0" cy="642.6" r="3.3" stroke="#197019" stroke-width="1.7" fill="none"/>
<circle cx="459.0" cy="608.8" r="3.3" stroke="#197019" stroke-width="1.7" fill="none"/>
<circle cx="475.8" cy="579.5" r="3.3" stroke="#197019" stroke-width="1.7" fill="none"/>
<circle cx="494.0" cy="561.6" r="3.3" stroke="#197019" stroke-width="1.7" fill="none"/>
<circle cx="511.5" cy="560.0" r="3.3" stroke="#197019" stroke-width="1.7" fill="none"/>
<circle cx="529.1" cy="553.4" r="3.3" stroke="#197019" stroke-width="1.7" fill="none"/>
<circle cx="546.6" cy="513.2" r="3.3" stroke="#197019" stroke-width="1.7" fill="none"/>
<circle cx="564.6" cy="517.4" r="3.3" stroke="#197019" stroke-width="1.7" fill="none"/>
<circle cx="581.7" cy="491.7" r="3.3" stroke="#197019" stroke-width="1.7" fill="none"/>
<circle cx="599.2" cy="482.2" r="3.3" stroke="#197019" stroke-width="1.7" fill="none"/>
<circle cx="617.4" cy="458.3" r="3.3" stroke="#197019" stroke-width="1.7" fill="none"/>
<circle cx="634.7" cy="438.9" r="3.3" stroke="#197019" stroke-width="1.7" fill="none"/>
<path d="M126.6 740.0L144.0 740.4L162.0 739.0L231.6 739.8L336.7 736.6L372.0 733.5L407.5 722.4L424.8 719.8L442.0 714.3L459.8 702.4L476.6 691.3L494.9 668.8L512.3 651.4L530.0 632.5L546.5 611.0L564.4 570.4L582.2 546.0L599.7 498.0L617.4 477.7L634.7 394.5" stroke="#197019" stroke-width="2.0" fill="none" stroke-linejoin="round" stroke-dasharray="8 6"/>
<rect x="123.4" y="736.8" width="6.4" height="6.4" rx="2.2" stroke="#197019" stroke-width="1.7" fill="none"/>
<rect x="140.8" y="737.2" width="6.4" height="6.4" rx="2.2" stroke="#197019" stroke-width="1.7" fill="none"/>
<rect x="158.8" y="735.8" width="6.4" height="6.4" rx="2.2" stroke="#197019" stroke-width="1.7" fill="none"/>
<rect x="228.4" y="736.6" width="6.4" height="6.4" rx="2.2" stroke="#197019" stroke-width="1.7" fill="none"/>
<rect x="333.5" y="733.4" width="6.4" height="6.4" rx="2.2" stroke="#197019" stroke-width="1.7" fill="none"/>
<rect x="368.8" y="730.3" width="6.4" height="6.4" rx="2.2" stroke="#197019" stroke-width="1.7" fill="none"/>
<rect x="404.3" y="719.2" width="6.4" height="6.4" rx="2.2" stroke="#197019" stroke-width="1.7" fill="none"/>
<rect x="421.6" y="716.6" width="6.4" height="6.4" rx="2.2" stroke="#197019" stroke-width="1.7" fill="none"/>
<rect x="438.8" y="711.1" width="6.4" height="6.4" rx="2.2" stroke="#197019" stroke-width="1.7" fill="none"/>
<rect x="456.6" y="699.2" width="6.4" height="6.4" rx="2.2" stroke="#197019" stroke-width="1.7" fill="none"/>
<rect x="473.4" y="688.1" width="6.4" height="6.4" rx="2.2" stroke="#197019" stroke-width="1.7" fill="none"/>
<rect x="491.7" y="665.6" width="6.4" height="6.4" rx="2.2" stroke="#197019" stroke-width="1.7" fill="none"/>
<rect x="509.1" y="648.2" width="6.4" height="6.4" rx="2.2" stroke="#197019" stroke-width="1.7" fill="none"/>
<rect x="526.8" y="629.3" width="6.4" height="6.4" rx="2.2" stroke="#197019" stroke-width="1.7" fill="none"/>
<rect x="543.3" y="607.8" width="6.4" height="6.4" rx="2.2" stroke="#197019" stroke-width="1.7" fill="none"/>
<rect x="561.2" y="567.2" width="6.4" height="6.4" rx="2.2" stroke="#197019" stroke-width="1.7" fill="none"/>
<rect x="579.0" y="542.8" width="6.4" height="6.4" rx="2.2" stroke="#197019" stroke-width="1.7" fill="none"/>
<rect x="596.5" y="494.8" width="6.4" height="6.4" rx="2.2" stroke="#197019" stroke-width="1.7" fill="none"/>
<rect x="614.2" y="474.5" width="6.4" height="6.4" rx="2.2" stroke="#197019" stroke-width="1.7" fill="none"/>
<rect x="631.5" y="391.3" width="6.4" height="6.4" rx="2.2" stroke="#197019" stroke-width="1.7" fill="none"/>
<path d="M557.3 465.6L559.6 491" stroke="#a8262e" stroke-width="2.2" stroke-linecap="round"/>
<path d="M553.8 488.8L560 501.7L564.3 488.4L559.8 492.6Z" fill="#dc1a20" stroke="#b0222a" stroke-width="0.8" stroke-linejoin="round"/>
<rect x="66.7" y="856.4" width="585.0" height="354.2" fill="none" stroke="#a2a2a2" stroke-width="1.6"/>
<path d="M139.8 1210.6V1205.1M286.1 1210.6V1205.1M432.3 1210.6V1205.1M578.6 1210.6V1205.1M66.7 1139.8H72.2M66.7 1068.9H72.2M66.7 998.1H72.2M66.7 927.2H72.2M651.7 1092.5H646.2M651.7 974.5H646.2" stroke="#8a8a8a" stroke-width="1.6" fill="none"/>
<text x="139.8" y="1251.3" font-family="'Liberation Serif','Times New Roman',serif" font-size="34" text-anchor="middle" fill="#111" font-weight="normal">1030</text>
<text x="286.1" y="1251.3" font-family="'Liberation Serif','Times New Roman',serif" font-size="34" text-anchor="middle" fill="#111" font-weight="normal">1040</text>
<text x="432.3" y="1251.3" font-family="'Liberation Serif','Times New Roman',serif" font-size="34" text-anchor="middle" fill="#111" font-weight="normal">1050</text>
<text x="578.6" y="1251.3" font-family="'Liberation Serif','Times New Roman',serif" font-size="34" text-anchor="middle" fill="#111" font-weight="normal">1060</text>
<text x="58.0" y="1222.4" font-family="'Liberation Serif','Times New Roman',serif" font-size="34" text-anchor="end" fill="#111" font-weight="normal">0</text>
<text x="58.0" y="1151.6" font-family="'Liberation Serif','Times New Roman',serif" font-size="34" text-anchor="end" fill="#111" font-weight="normal">1</text>
<text x="58.0" y="1080.7" font-family="'Liberation Serif','Times New Roman',serif" font-size="34" text-anchor="end" fill="#111" font-weight="normal">2</text>
<text x="58.0" y="1009.9" font-family="'Liberation Serif','Times New Roman',serif" font-size="34" text-anchor="end" fill="#111" font-weight="normal">3</text>
<text x="58.0" y="939.0" font-family="'Liberation Serif','Times New Roman',serif" font-size="34" text-anchor="end" fill="#111" font-weight="normal">4</text>
<text x="58.0" y="868.2" font-family="'Liberation Serif','Times New Roman',serif" font-size="34" text-anchor="end" fill="#111" font-weight="normal">5</text>
<text x="659.5" y="1222.6" font-family="'Liberation Serif','Times New Roman',serif" font-size="34" text-anchor="start" fill="#111" font-weight="normal">0</text>
<text x="659.5" y="1104.5" font-family="'Liberation Serif','Times New Roman',serif" font-size="34" text-anchor="start" fill="#111" font-weight="normal">500</text>
<text x="659.5" y="986.5" font-family="'Liberation Serif','Times New Roman',serif" font-size="34" text-anchor="start" fill="#111" font-weight="normal">1000</text>
<text x="659.5" y="868.4" font-family="'Liberation Serif','Times New Roman',serif" font-size="34" text-anchor="start" fill="#111" font-weight="normal">1500</text>
<text x="356.3" y="1288.1" font-family="'Liberation Serif','Times New Roman',serif" font-size="37" text-anchor="middle" fill="#111" font-weight="normal">Time (ps)</text>
<text x="29.5" y="1033.1" font-family="'Liberation Serif','Times New Roman',serif" font-size="37" text-anchor="middle" fill="#111" font-weight="normal" transform="rotate(-90 29.5 1033.1)">Nucleus Size (nm)</text>
<text x="737.8" y="1035.8" font-family="'Liberation Serif','Times New Roman',serif" font-size="37" text-anchor="middle" fill="#111" font-weight="normal" transform="rotate(90 737.8 1035.8)">Number of Atoms</text>
<text x="74.3" y="892.3" font-family="'Liberation Serif','Times New Roman',serif" font-size="34" text-anchor="start" fill="#111" font-weight="normal">(c)</text>
<path d="M160.3 883.9H187.9" stroke="#aaa862" stroke-width="2.2"/>
<path d="M160.3 907.4H170M177.6 907.4H187.9" stroke="#aaa862" stroke-width="2.2"/>
<text x="197.0" y="891.3" font-family="'Liberation Serif','Times New Roman',serif" font-size="29.5" text-anchor="start" fill="#111" font-weight="normal">Nucleus Size</text>
<text x="197.0" y="918.2" font-family="'Liberation Serif','Times New Roman',serif" font-size="29.5" text-anchor="start" fill="#111" font-weight="normal">Number of Atoms</text>
<rect x="130.0" y="935.3" width="208.0" height="136.7" fill="#fff" stroke="#c4c4c4" stroke-width="1.1"/>
<path d="M199.3 1072.0v-2.5M199.3 935.3v2.5M268.7 1072.0v-2.5M268.7 935.3v2.5M130.0 1061.8h2.5M338.0 1061.8h-2.5M130.0 1010.9h2.5M338.0 1010.9h-2.5M130.0 960.0h2.5M338.0 960.0h-2.5" stroke="#c4c4c4" stroke-width="1"/>
<text x="130.0" y="1088.2" font-family="'Liberation Serif','Times New Roman',serif" font-size="12.6" text-anchor="middle" fill="#333" font-weight="normal">1000</text>
<text x="199.3" y="1088.2" font-family="'Liberation Serif','Times New Roman',serif" font-size="12.6" text-anchor="middle" fill="#333" font-weight="normal">1100</text>
<text x="268.7" y="1088.2" font-family="'Liberation Serif','Times New Roman',serif" font-size="12.6" text-anchor="middle" fill="#333" font-weight="normal">1200</text>
<text x="338.0" y="1088.2" font-family="'Liberation Serif','Times New Roman',serif" font-size="12.6" text-anchor="middle" fill="#333" font-weight="normal">1300</text>
<text x="127.0" y="964.4" font-family="'Liberation Serif','Times New Roman',serif" font-size="12.4" text-anchor="end" fill="#333" font-weight="normal">-3.15</text>
<text x="127.0" y="1015.3" font-family="'Liberation Serif','Times New Roman',serif" font-size="12.4" text-anchor="end" fill="#333" font-weight="normal">-3.2</text>
<text x="127.0" y="1066.2" font-family="'Liberation Serif','Times New Roman',serif" font-size="12.4" text-anchor="end" fill="#333" font-weight="normal">-3.25</text>
<text x="235.2" y="1102.4" font-family="'Liberation Serif','Times New Roman',serif" font-size="13.6" text-anchor="middle" fill="#333" font-weight="normal">Time (ps)</text>
<text x="98.0" y="1007.5" font-family="'Liberation Serif','Times New Roman',serif" font-size="13.7" text-anchor="middle" fill="#333" font-weight="normal" transform="rotate(-90 98.0 1007.5)">Potential Energy (eV/atom)</text>
<path d="M130.5 946.8L131.5 947.0L132.5 947.2L133.5 947.4L134.5 947.7L135.5 947.9L136.5 948.1L137.5 948.3L138.5 948.5L139.5 948.7L140.5 948.9L141.5 949.1L142.5 949.3L143.5 949.5L144.5 949.7L145.5 950.0L146.5 950.2L147.5 950.4L148.5 950.6L149.5 950.8L150.5 951.0L151.5 951.2L152.5 951.4L153.5 951.6L154.5 951.8L155.5 952.0L156.5 952.2L157.5 952.4L158.5 952.6L159.5 952.8L160.5 953.0L161.5 953.2L162.5 953.4L163.5 953.6L164.5 953.8L165.5 954.0L166.5 954.2L167.5 954.4L168.5 954.6L169.5 954.8L170.5 955.0L171.5 955.2L172.5 955.4L173.5 955.6L174.5 955.8L175.5 956.0L176.5 956.2L177.5 956.4L178.5 956.6L179.5 956.8L180.5 957.0L181.5 957.2L182.5 957.4L183.5 957.6L184.5 957.8L185.5 958.0L186.5 958.2L187.5 958.4L188.5 958.6L189.5 958.8L190.5 959.0L191.5 959.2L192.5 959.5L193.5 959.8L194.5 960.1L195.5 960.4L196.5 960.7L197.5 961.1L198.5 961.5L199.5 961.9L200.5 962.4L201.5 962.9L202.5 963.3L203.5 963.9L204.5 964.4L205.5 964.9L206.5 965.4L207.5 966.0L208.5 966.5L209.5 967.1L210.5 967.8L211.5 968.4L212.5 969.2L213.5 970.0L214.5 970.9L215.5 971.9L216.5 973.2L217.5 974.6L218.5 976.1L219.5 977.7L220.5 979.5L221.5 981.6L222.5 983.9L223.5 986.5L224.5 989.2L225.5 992.2L226.5 995.5L227.5 999.0L228.5 1002.6L229.5 1006.2L230.5 1009.9L231.5 1013.6L232.5 1017.1L233.5 1020.4L234.5 1023.6L235.5 1026.6L236.5 1029.2L237.5 1031.8L238.5 1034.2L239.5 1036.3L240.5 1037.9L241.5 1039.3L242.5 1040.6L243.5 1041.7L244.5 1042.8L245.5 1043.7L246.5 1044.6L247.5 1045.3L248.5 1045.9L249.5 1046.5L250.5 1047.1L251.5 1047.6L252.5 1048.1L253.5 1048.5L254.5 1049.0L255.5 1049.4L256.5 1049.8L257.5 1050.2L258.5 1050.5L259.5 1050.9L260.5 1051.2L261.5 1051.5L262.5 1051.8L263.5 1052.1L264.5 1052.4L265.5 1052.7L266.5 1053.0L267.5 1053.3L268.5 1053.5L269.5 1053.8L270.5 1054.1L271.5 1054.3L272.5 1054.6L273.5 1054.8L274.5 1055.1L275.5 1055.3L276.5 1055.6L277.5 1055.8L278.5 1056.0L279.5 1056.3L280.5 1056.5L281.5 1056.7L282.5 1056.9L283.5 1057.2L284.5 1057.4L285.5 1057.6L286.5 1057.8L287.5 1058.0L288.5 1058.3L289.5 1058.5L290.5 1058.7L291.5 1058.9L292.5 1059.2L293.5 1059.4L294.5 1059.6L295.5 1059.8L296.5 1060.0L297.5 1060.2L298.5 1060.5L299.5 1060.7L300.5 1060.9L301.5 1061.1L302.5 1061.3L303.5 1061.5L304.5 1061.7L305.5 1061.9L306.5 1062.1L307.5 1062.2L308.5 1062.4L309.5 1062.6L310.5 1062.8L311.5 1063.0L312.5 1063.2L313.5 1063.4L314.5 1063.6L315.5 1063.8L316.5 1064.0L317.5 1064.2L318.5 1064.3L319.5 1064.5L320.5 1064.7L321.5 1064.9L322.5 1065.1L323.5 1065.2L324.5 1065.4L325.5 1065.6L326.5 1065.8L327.5 1065.9L328.5 1066.1L329.5 1066.3L330.5 1066.4L331.5 1066.6L332.5 1066.8L333.5 1066.9L334.5 1067.1L335.5 1067.2L336.5 1067.4L337.5 1067.6L337.8 1067.6" stroke="#c9c562" stroke-width="1.6" fill="none"/>
<circle cx="166.3" cy="954.0" r="2.5" fill="#000"/>
<path d="M489.4 1082.9L592.2 1089.9M592.2 1089.9L592.2 1203.8M592.2 1203.8L489.4 1196.7M489.4 1196.7L489.4 1082.9M541.2 1068.9L643.2 1076.4M643.2 1076.4L643.2 1188.6M643.2 1188.6L541.2 1182.7M541.2 1182.7L541.2 1068.9M489.4 1082.9L541.2 1068.9M592.2 1089.9L643.2 1076.4M592.2 1203.8L643.2 1188.6M489.4 1196.7L541.2 1182.7" stroke="#555" stroke-width="1.1" fill="none"/>
<g filter="url(#soft2)">
<path d="M630.0 1184.0h0.01M519.9 1144.9h0.01M553.8 1098.8h0.01M558.5 1104.8h0.01M528.7 1082.9h0.01M570.5 1133.8h0.01M566.6 1081.1h0.01M581.8 1153.0h0.01M628.0 1120.3h0.01M561.3 1141.2h0.01M546.2 1088.3h0.01M586.1 1148.8h0.01M564.6 1105.6h0.01M532.7 1175.2h0.01M503.2 1094.4h0.01M560.1 1138.4h0.01M538.3 1123.2h0.01M549.0 1165.7h0.01M556.4 1086.0h0.01M574.3 1178.7h0.01M575.9 1182.7h0.01M636.4 1095.1h0.01M496.4 1130.3h0.01M622.4 1152.7h0.01M599.7 1188.6h0.01M608.6 1170.0h0.01M599.4 1129.9h0.01M507.4 1133.7h0.01M596.4 1194.4h0.01M508.8 1141.4h0.01M558.3 1175.6h0.01M555.6 1182.0h0.01M566.6 1175.2h0.01M602.5 1161.5h0.01M593.4 1172.9h0.01M535.1 1112.4h0.01M596.9 1143.9h0.01M606.6 1092.4h0.01M566.6 1137.1h0.01M519.0 1191.8h0.01M559.2 1145.2h0.01M570.1 1134.1h0.01M582.6 1083.2h0.01M614.5 1092.6h0.01M519.3 1159.4h0.01M539.8 1133.0h0.01M596.6 1132.7h0.01M571.8 1142.5h0.01M524.5 1186.1h0.01M605.0 1180.0h0.01M600.2 1156.2h0.01M537.4 1116.4h0.01M538.1 1189.4h0.01M571.3 1121.9h0.01M551.6 1145.7h0.01M529.2 1092.0h0.01M542.4 1174.6h0.01M507.0 1134.6h0.01M591.7 1125.1h0.01M528.8 1178.0h0.01M592.6 1161.4h0.01M590.9 1114.9h0.01M509.1 1178.0h0.01M600.1 1123.5h0.01M566.7 1081.1h0.01M606.8 1093.3h0.01M584.1 1109.8h0.01M589.8 1092.9h0.01M566.9 1158.7h0.01M599.5 1173.0h0.01M557.1 1122.4h0.01M509.6 1178.2h0.01M565.1 1113.3h0.01M566.6 1178.1h0.01M565.0 1149.0h0.01M629.8 1112.5h0.01M596.9 1199.7h0.01M571.3 1161.8h0.01M531.0 1118.0h0.01M578.1 1146.1h0.01M547.5 1088.0h0.01M563.7 1171.1h0.01M548.2 1109.4h0.01M567.2 1135.9h0.01M623.4 1140.3h0.01M566.5 1151.5h0.01M602.3 1177.4h0.01M560.6 1135.6h0.01M595.3 1128.0h0.01M515.5 1081.7h0.01M625.8 1163.6h0.01M566.8 1116.3h0.01M581.5 1086.3h0.01M548.5 1146.5h0.01M503.9 1135.2h0.01M587.2 1113.9h0.01M593.7 1149.6h0.01M560.2 1110.1h0.01M542.5 1110.2h0.01M560.7 1172.5h0.01M628.7 1081.5h0.01M555.8 1187.3h0.01M594.4 1185.7h0.01M551.1 1174.8h0.01M504.9 1176.7h0.01M535.0 1163.9h0.01M613.9 1154.1h0.01M568.6 1136.0h0.01M566.0 1184.2h0.01M568.6 1170.3h0.01M584.8 1105.7h0.01M503.1 1156.7h0.01M631.0 1078.8h0.01M596.7 1144.8h0.01M578.6 1158.9h0.01M601.2 1120.6h0.01M563.4 1183.4h0.01M593.8 1093.7h0.01M601.0 1145.3h0.01M551.9 1164.6h0.01M534.2 1091.7h0.01M611.5 1153.4h0.01M568.3 1171.1h0.01M592.5 1140.9h0.01M585.3 1180.1h0.01M588.0 1170.4h0.01M593.8 1191.9h0.01M552.2 1124.3h0.01M580.4 1187.2h0.01M518.7 1106.6h0.01M588.5 1139.2h0.01M547.9 1114.4h0.01M590.2 1188.5h0.01M593.8 1097.7h0.01M577.8 1167.3h0.01M508.6 1185.1h0.01M605.2 1129.9h0.01M546.2 1089.8h0.01M559.5 1170.7h0.01M595.5 1120.1h0.01M556.1 1170.9h0.01M532.1 1169.8h0.01M598.2 1089.7h0.01M618.1 1145.7h0.01M634.0 1148.2h0.01M531.6 1110.4h0.01M575.8 1185.8h0.01M601.8 1144.4h0.01M561.5 1161.3h0.01M538.7 1122.2h0.01M506.1 1117.0h0.01M515.9 1133.8h0.01M618.6 1168.5h0.01M582.4 1118.5h0.01M602.6 1099.3h0.01M545.7 1183.2h0.01M534.9 1145.2h0.01M565.9 1176.3h0.01M610.4 1184.9h0.01M543.2 1156.5h0.01M592.5 1119.1h0.01M552.5 1183.0h0.01M568.7 1110.3h0.01M507.4 1089.1h0.01M546.1 1121.1h0.01M560.4 1087.6h0.01M562.1 1139.7h0.01M568.1 1160.7h0.01M623.0 1162.5h0.01M592.0 1113.2h0.01M606.2 1167.0h0.01M603.7 1174.7h0.01M579.7 1085.8h0.01M607.6 1179.5h0.01M580.1 1099.8h0.01M558.9 1108.8h0.01M585.3 1153.1h0.01M629.9 1145.7h0.01M599.0 1110.4h0.01M529.6 1147.7h0.01M581.1 1098.8h0.01M550.1 1080.2h0.01M597.5 1185.6h0.01M587.2 1111.0h0.01M565.3 1118.0h0.01M508.2 1100.9h0.01M610.7 1086.7h0.01M511.4 1166.3h0.01M528.9 1169.1h0.01M556.6 1116.1h0.01M598.4 1084.5h0.01M524.0 1170.8h0.01M503.4 1104.4h0.01M519.3 1099.3h0.01M602.4 1141.9h0.01M544.0 1178.1h0.01M494.4 1158.9h0.01M585.0 1145.5h0.01M505.7 1124.3h0.01M587.7 1080.4h0.01M621.8 1142.5h0.01M617.1 1172.7h0.01M580.3 1085.3h0.01M592.2 1164.0h0.01M605.6 1156.1h0.01M582.5 1110.6h0.01M626.9 1083.7h0.01M565.8 1141.0h0.01M586.9 1113.0h0.01M563.8 1106.1h0.01M530.1 1086.0h0.01M514.8 1108.2h0.01M545.8 1162.6h0.01M501.8 1172.5h0.01M602.6 1084.7h0.01M593.7 1116.6h0.01M564.6 1172.0h0.01M543.7 1176.2h0.01M595.9 1198.0h0.01M574.0 1088.2h0.01M555.8 1110.2h0.01M573.5 1124.8h0.01M586.1 1140.0h0.01M548.2 1164.8h0.01M600.8 1132.2h0.01M530.4 1126.6h0.01M604.4 1186.5h0.01M616.4 1171.5h0.01M604.1 1112.9h0.01M514.8 1141.2h0.01M590.4 1156.9h0.01M545.3 1077.7h0.01M581.4 1127.7h0.01M573.8 1101.7h0.01M560.3 1111.9h0.01M544.1 1114.5h0.01M601.9 1102.4h0.01M542.6 1113.8h0.01M610.5 1099.3h0.01M559.7 1143.9h0.01M583.0 1099.0h0.01M561.4 1166.4h0.01M540.6 1195.5h0.01M526.5 1087.4h0.01M503.4 1166.0h0.01M521.0 1155.5h0.01M571.4 1189.1h0.01M558.7 1180.8h0.01M592.3 1122.4h0.01M596.9 1164.4h0.01M521.3 1127.4h0.01M551.8 1087.3h0.01M504.9 1123.9h0.01M565.9 1157.9h0.01M625.4 1191.5h0.01M573.4 1168.3h0.01M518.6 1111.5h0.01M573.6 1149.5h0.01M580.7 1110.9h0.01M545.2 1098.6h0.01M584.4 1157.7h0.01M607.5 1115.1h0.01M543.4 1118.1h0.01M601.9 1116.3h0.01M581.0 1166.7h0.01M602.4 1150.2h0.01M579.1 1181.8h0.01M521.1 1147.4h0.01M604.1 1110.3h0.01M567.7 1163.3h0.01M539.8 1149.3h0.01M564.6 1125.5h0.01M575.0 1095.8h0.01M565.3 1140.0h0.01M612.3 1153.9h0.01M562.9 1126.1h0.01M562.7 1136.5h0.01M514.6 1089.8h0.01M549.8 1122.0h0.01M533.2 1104.6h0.01M544.6 1107.8h0.01M568.6 1095.0h0.01M568.0 1178.7h0.01M561.9 1186.4h0.01M576.2 1184.0h0.01M529.6 1168.7h0.01M629.9 1084.5h0.01M595.8 1122.4h0.01M553.9 1136.4h0.01M585.3 1100.9h0.01M513.8 1081.2h0.01M511.9 1131.7h0.01M506.1 1131.8h0.01M530.4 1141.4h0.01M545.3 1175.6h0.01M543.9 1151.3h0.01M528.6 1142.2h0.01M520.0 1135.8h0.01M552.8 1185.5h0.01M540.4 1193.9h0.01M622.6 1113.0h0.01M542.9 1183.3h0.01M570.2 1113.9h0.01M599.3 1098.8h0.01M513.9 1089.8h0.01M519.3 1111.7h0.01M621.3 1152.4h0.01M544.6 1116.1h0.01M527.5 1083.0h0.01M610.6 1088.4h0.01M515.2 1170.8h0.01M565.6 1162.4h0.01M505.1 1184.8h0.01M629.8 1169.5h0.01M610.4 1122.2h0.01M557.3 1147.4h0.01M605.9 1116.1h0.01M542.2 1077.7h0.01M576.8 1114.2h0.01M591.5 1098.1h0.01M553.1 1151.2h0.01M548.5 1183.8h0.01M584.7 1154.7h0.01M532.7 1166.4h0.01M556.1 1106.1h0.01M601.9 1184.2h0.01M592.5 1122.1h0.01M594.7 1113.6h0.01M582.8 1079.8h0.01M522.7 1109.1h0.01M533.9 1129.3h0.01M579.1 1151.0h0.01M500.6 1108.6h0.01M567.5 1125.2h0.01M498.9 1173.0h0.01M616.0 1170.2h0.01M563.3 1089.3h0.01M584.0 1148.9h0.01M586.1 1094.5h0.01M586.3 1102.9h0.01M559.7 1143.5h0.01M601.4 1117.6h0.01M512.9 1115.2h0.01M567.6 1086.4h0.01M589.8 1180.6h0.01M598.2 1170.8h0.01M569.6 1168.4h0.01M535.3 1111.2h0.01M552.0 1145.2h0.01M509.2 1083.3h0.01M547.4 1143.2h0.01M566.0 1153.9h0.01M536.7 1157.7h0.01M539.9 1109.7h0.01M581.8 1101.2h0.01M571.3 1136.1h0.01M552.1 1113.8h0.01M548.2 1093.3h0.01M577.1 1135.0h0.01M509.5 1152.6h0.01M560.3 1184.6h0.01M544.6 1121.8h0.01M558.8 1167.1h0.01M498.4 1125.6h0.01M576.8 1098.4h0.01M554.6 1192.4h0.01M550.4 1113.9h0.01M550.8 1102.2h0.01M587.3 1083.1h0.01M530.7 1109.9h0.01M544.0 1171.1h0.01M562.7 1106.3h0.01M566.8 1174.6h0.01M522.6 1097.9h0.01M493.6 1191.0h0.01M585.4 1174.1h0.01M612.8 1097.9h0.01M589.3 1172.3h0.01M583.3 1183.0h0.01M531.3 1092.1h0.01M566.9 1136.0h0.01M521.4 1180.5h0.01M595.0 1130.7h0.01M579.0 1136.2h0.01M536.9 1169.1h0.01M550.1 1095.0h0.01M562.1 1073.7h0.01M605.3 1179.3h0.01M543.5 1186.3h0.01M550.9 1128.5h0.01M547.8 1077.1h0.01M515.1 1160.9h0.01M611.8 1180.5h0.01M559.0 1162.3h0.01M519.5 1188.2h0.01M575.5 1148.7h0.01M549.9 1096.8h0.01M596.1 1115.7h0.01M605.1 1142.7h0.01M573.0 1097.9h0.01M502.5 1141.1h0.01M519.6 1162.0h0.01M551.7 1117.0h0.01M551.3 1109.8h0.01M605.6 1152.5h0.01M601.9 1114.3h0.01M542.5 1102.9h0.01M605.5 1166.8h0.01M536.8 1161.1h0.01M513.6 1103.1h0.01M528.7 1093.4h0.01M588.5 1133.0h0.01M609.9 1167.4h0.01M564.9 1143.6h0.01M569.1 1093.5h0.01M581.5 1097.9h0.01M582.9 1143.5h0.01M544.9 1158.9h0.01M621.5 1135.3h0.01M588.1 1158.0h0.01M561.5 1127.7h0.01M581.3 1150.2h0.01M559.3 1138.9h0.01M525.8 1091.6h0.01M524.7 1088.7h0.01M635.6 1122.4h0.01M593.6 1184.1h0.01M591.9 1180.1h0.01M507.3 1187.5h0.01M607.2 1181.5h0.01M573.7 1115.7h0.01M602.2 1087.4h0.01M533.5 1115.3h0.01M624.8 1174.4h0.01M560.8 1127.7h0.01M561.6 1106.1h0.01M568.1 1080.5h0.01M499.1 1146.2h0.01M547.7 1125.7h0.01M632.7 1164.9h0.01M562.3 1137.1h0.01M589.7 1186.1h0.01M606.0 1156.7h0.01M606.2 1128.7h0.01M558.9 1094.2h0.01M582.2 1177.9h0.01M593.4 1083.3h0.01M572.5 1105.4h0.01M524.3 1182.2h0.01M637.4 1123.3h0.01M578.3 1143.4h0.01M525.3 1151.2h0.01M494.1 1164.8h0.01M630.6 1102.5h0.01M538.5 1161.7h0.01M572.5 1105.1h0.01M563.3 1183.7h0.01M577.3 1181.1h0.01M515.0 1151.3h0.01M536.4 1116.9h0.01M566.7 1107.1h0.01M543.9 1103.5h0.01M524.6 1193.7h0.01M518.9 1104.2h0.01M559.9 1120.1h0.01M602.6 1102.8h0.01M545.0 1145.3h0.01M592.7 1146.9h0.01M520.6 1089.2h0.01M597.5 1188.2h0.01M545.3 1093.0h0.01M506.3 1130.2h0.01M591.0 1111.8h0.01M633.1 1135.1h0.01M598.2 1129.3h0.01M535.6 1090.7h0.01M573.7 1155.6h0.01M585.0 1115.0h0.01M545.1 1176.5h0.01M585.4 1171.2h0.01M591.3 1170.2h0.01M566.8 1133.7h0.01M555.3 1137.6h0.01M534.8 1127.0h0.01M557.4 1180.0h0.01M516.4 1137.4h0.01M558.0 1089.7h0.01M532.5 1160.8h0.01M575.5 1128.0h0.01M523.0 1165.6h0.01M557.2 1092.3h0.01M506.6 1145.4h0.01M531.8 1193.3h0.01M527.2 1080.4h0.01M532.6 1078.9h0.01M617.2 1100.4h0.01M596.3 1107.7h0.01M571.1 1084.4h0.01M581.0 1187.3h0.01M569.8 1137.8h0.01M516.2 1151.0h0.01M559.6 1097.8h0.01M598.2 1121.5h0.01M543.1 1140.8h0.01M589.1 1195.5h0.01M552.9 1107.3h0.01M575.0 1141.5h0.01M543.5 1136.4h0.01M604.1 1146.0h0.01M533.6 1133.6h0.01M518.7 1122.8h0.01M559.0 1162.9h0.01M558.0 1104.0h0.01M609.7 1185.5h0.01M569.9 1093.7h0.01M607.4 1088.5h0.01M564.7 1103.6h0.01M624.6 1116.8h0.01M587.1 1105.2h0.01M533.0 1122.7h0.01M528.0 1091.0h0.01M601.6 1105.5h0.01M571.3 1103.1h0.01M607.1 1170.8h0.01M565.9 1084.8h0.01M549.2 1085.6h0.01M583.7 1154.2h0.01M554.4 1178.4h0.01M535.3 1107.9h0.01M625.3 1128.0h0.01M571.0 1121.7h0.01M511.1 1132.8h0.01M573.2 1123.3h0.01M583.0 1080.4h0.01M541.7 1125.5h0.01M585.8 1105.4h0.01M547.8 1182.3h0.01M521.3 1103.9h0.01M586.3 1085.8h0.01M593.7 1089.7h0.01M611.3 1131.3h0.01M596.9 1173.1h0.01M586.4 1159.3h0.01M607.7 1125.8h0.01M574.2 1171.6h0.01M574.4 1133.1h0.01M589.5 1106.8h0.01M539.2 1102.8h0.01M547.0 1143.5h0.01M590.4 1137.3h0.01M571.9 1149.1h0.01M599.6 1090.4h0.01M606.0 1107.7h0.01M621.4 1118.7h0.01M543.5 1146.1h0.01M616.7 1112.4h0.01M492.9 1146.1h0.01M538.0 1114.8h0.01M606.9 1173.6h0.01M517.9 1138.9h0.01" stroke="#d45a5a" stroke-width="2.1" stroke-linecap="round" fill="none" opacity="0.85"/>
<path d="M594.3 1149.8h0.01M524.3 1112.4h0.01M604.3 1175.8h0.01M563.7 1171.0h0.01M580.2 1125.2h0.01M533.0 1091.0h0.01M617.9 1143.8h0.01M564.1 1118.7h0.01M582.8 1188.0h0.01M574.7 1125.7h0.01M613.3 1189.7h0.01M554.5 1099.1h0.01M521.5 1145.5h0.01M529.1 1174.0h0.01M575.7 1111.8h0.01M574.2 1117.1h0.01M573.2 1151.2h0.01M620.1 1111.1h0.01M546.9 1084.8h0.01M577.0 1180.7h0.01M508.3 1155.4h0.01M578.3 1090.1h0.01M585.0 1171.8h0.01M582.4 1143.7h0.01M610.8 1099.3h0.01M608.8 1080.5h0.01M560.2 1085.4h0.01M558.8 1087.8h0.01M612.5 1105.8h0.01M549.1 1155.4h0.01M506.3 1155.3h0.01M575.1 1158.7h0.01M551.6 1091.2h0.01M613.4 1118.8h0.01M614.1 1099.8h0.01M599.6 1154.5h0.01M582.2 1127.6h0.01M544.3 1114.8h0.01M535.1 1170.4h0.01M601.1 1151.7h0.01M546.6 1112.7h0.01M536.2 1184.1h0.01M576.8 1150.2h0.01M578.4 1081.7h0.01M581.8 1082.7h0.01M554.9 1085.0h0.01M522.4 1141.7h0.01M565.4 1151.5h0.01M531.9 1165.4h0.01M502.7 1083.2h0.01M620.3 1111.8h0.01M614.1 1165.1h0.01M597.8 1152.6h0.01M592.6 1126.6h0.01M501.2 1172.1h0.01M634.6 1152.4h0.01M580.9 1126.1h0.01M578.6 1085.2h0.01M523.8 1104.4h0.01M576.5 1130.1h0.01M558.8 1120.1h0.01M606.7 1130.3h0.01M501.7 1192.4h0.01M562.6 1102.0h0.01M619.8 1133.3h0.01M548.1 1170.4h0.01M536.9 1185.7h0.01M588.9 1118.1h0.01M570.7 1179.5h0.01M536.1 1105.0h0.01M558.0 1127.9h0.01M552.1 1180.5h0.01M541.9 1184.9h0.01M562.8 1152.6h0.01M581.4 1123.0h0.01M604.1 1112.8h0.01M508.4 1090.3h0.01M534.4 1163.4h0.01M542.1 1180.2h0.01M541.6 1116.6h0.01M609.4 1106.6h0.01M598.6 1167.3h0.01M599.0 1103.5h0.01M514.7 1081.5h0.01M582.8 1142.3h0.01M538.1 1183.7h0.01M509.5 1160.3h0.01M504.1 1156.4h0.01M591.8 1126.7h0.01M526.8 1153.5h0.01M596.5 1174.2h0.01M588.2 1089.5h0.01M520.1 1192.3h0.01M527.9 1174.9h0.01M575.7 1091.2h0.01M605.2 1085.2h0.01M577.0 1094.0h0.01M561.3 1168.5h0.01M600.8 1168.0h0.01M526.2 1192.6h0.01M563.7 1179.8h0.01M532.5 1162.7h0.01M538.0 1109.9h0.01M572.2 1176.7h0.01M530.2 1165.4h0.01M529.8 1097.3h0.01M529.0 1094.2h0.01M537.0 1094.2h0.01M509.0 1169.8h0.01M548.8 1094.4h0.01M561.7 1165.3h0.01M607.5 1087.4h0.01M542.4 1109.3h0.01M564.3 1077.8h0.01M498.4 1149.5h0.01M558.1 1179.3h0.01M590.1 1164.8h0.01M549.4 1117.7h0.01M622.8 1098.0h0.01M580.1 1083.8h0.01M558.3 1138.8h0.01M504.4 1091.8h0.01M558.5 1166.6h0.01M588.6 1179.9h0.01M504.8 1083.6h0.01M566.7 1180.9h0.01M570.0 1187.2h0.01M597.7 1176.2h0.01M523.7 1175.7h0.01M527.8 1075.5h0.01M605.9 1094.9h0.01M537.9 1110.4h0.01M600.4 1161.9h0.01M513.4 1150.8h0.01M507.0 1155.6h0.01M500.9 1193.3h0.01M548.3 1128.4h0.01M593.8 1096.4h0.01M551.3 1144.1h0.01M586.2 1146.7h0.01M614.2 1095.8h0.01M548.1 1189.4h0.01M591.6 1161.8h0.01M566.1 1089.8h0.01M504.4 1089.1h0.01M625.4 1125.5h0.01M567.0 1094.9h0.01M501.4 1181.2h0.01M567.6 1128.7h0.01M596.4 1089.6h0.01M512.9 1112.6h0.01M536.7 1144.4h0.01M605.6 1177.8h0.01M535.5 1138.5h0.01M537.9 1156.4h0.01M621.0 1180.1h0.01M587.9 1194.3h0.01M572.3 1148.7h0.01M585.9 1097.2h0.01M567.5 1163.7h0.01M576.3 1144.0h0.01M558.0 1085.0h0.01M614.2 1141.1h0.01M529.4 1119.7h0.01M542.3 1162.3h0.01M574.6 1141.7h0.01M582.7 1095.3h0.01M530.4 1188.7h0.01M603.6 1111.4h0.01M620.5 1119.3h0.01" stroke="#62d862" stroke-width="2.1" stroke-linecap="round" fill="none" opacity="0.85"/>
<path d="M556.2 1142.7L555.8 1143.9L554.9 1145.0L555.2 1146.4L554.6 1147.5L553.4 1148.1L552.3 1148.6L551.5 1149.6L550.2 1149.6L549.1 1149.6L548.0 1150.0L546.8 1150.0L545.7 1149.8L544.6 1149.5L543.2 1149.3L542.5 1148.2L542.0 1147.1L541.3 1146.1L540.5 1145.1L540.4 1143.9L540.6 1142.7L540.7 1141.5L540.5 1140.3L541.1 1139.2L542.1 1138.4L543.0 1137.7L543.8 1137.0L544.9 1136.6L545.6 1135.3L546.7 1134.8L548.0 1135.1L549.1 1135.9L550.3 1135.7L551.2 1136.3L552.1 1137.1L553.4 1137.3L554.5 1138.0L555.1 1139.1L555.6 1140.2L555.1 1141.6Z" fill="#58e058"/>
<path d="M547.6 1138.9h0.01M544.5 1147.7h0.01M553.5 1143.4h0.01M546.0 1147.1h0.01M548.4 1145.8h0.01M552.6 1141.6h0.01M549.3 1148.2h0.01" stroke="#c8584c" stroke-width="2" stroke-linecap="round" fill="none" opacity="0.85"/>
</g>
<circle cx="547.3" cy="1142.7" r="13.3" stroke="#d6121a" stroke-width="2.4" fill="none"/>
<path d="M212.4 1176.4L234.2 1156.8L256.0 1150.5L277.8 1126.8L299.6 1146.7L321.7 1144.5L343.5 1132.8L365.9 1100.4L387.7 1096.0L410.0 1075.1L431.8 1041.2L453.4 1022.9L475.7 980.9L497.1 960.6L519.1 962.3L540.9 946.6L562.9 917.7L585.1 891.4" stroke="#b9b71d" stroke-width="2.3" fill="none" stroke-linejoin="round"/>
<circle cx="212.4" cy="1176.4" r="3.3" stroke="#b9b71d" stroke-width="1.7" fill="none"/>
<circle cx="234.2" cy="1156.8" r="3.3" stroke="#b9b71d" stroke-width="1.7" fill="none"/>
<circle cx="256.0" cy="1150.5" r="3.3" stroke="#b9b71d" stroke-width="1.7" fill="none"/>
<circle cx="277.8" cy="1126.8" r="3.3" stroke="#b9b71d" stroke-width="1.7" fill="none"/>
<circle cx="299.6" cy="1146.7" r="3.3" stroke="#b9b71d" stroke-width="1.7" fill="none"/>
<circle cx="321.7" cy="1144.5" r="3.3" stroke="#b9b71d" stroke-width="1.7" fill="none"/>
<circle cx="343.5" cy="1132.8" r="3.3" stroke="#b9b71d" stroke-width="1.7" fill="none"/>
<circle cx="365.9" cy="1100.4" r="3.3" stroke="#b9b71d" stroke-width="1.7" fill="none"/>
<circle cx="387.7" cy="1096.0" r="3.3" stroke="#b9b71d" stroke-width="1.7" fill="none"/>
<circle cx="410.0" cy="1075.1" r="3.3" stroke="#b9b71d" stroke-width="1.7" fill="none"/>
<circle cx="431.8" cy="1041.2" r="3.3" stroke="#b9b71d" stroke-width="1.7" fill="none"/>
<circle cx="453.4" cy="1022.9" r="3.3" stroke="#b9b71d" stroke-width="1.7" fill="none"/>
<circle cx="475.7" cy="980.9" r="3.3" stroke="#b9b71d" stroke-width="1.7" fill="none"/>
<circle cx="497.1" cy="960.6" r="3.3" stroke="#b9b71d" stroke-width="1.7" fill="none"/>
<circle cx="519.1" cy="962.3" r="3.3" stroke="#b9b71d" stroke-width="1.7" fill="none"/>
<circle cx="540.9" cy="946.6" r="3.3" stroke="#b9b71d" stroke-width="1.7" fill="none"/>
<circle cx="562.9" cy="917.7" r="3.3" stroke="#b9b71d" stroke-width="1.7" fill="none"/>
<circle cx="585.1" cy="891.4" r="3.3" stroke="#b9b71d" stroke-width="1.7" fill="none"/>
<path d="M215.4 1209.4L237.2 1206.4L259.0 1206.4L280.8 1201.0L302.1 1202.6L324.2 1200.4L346.0 1200.4L368.1 1189.5L389.5 1181.5L411.0 1166.5L433.5 1146.5L455.0 1131.5L477.7 1096.4L499.4 1037.7L520.9 1018.0L542.9 972.3L564.3 911.4L586.6 868.0" stroke="#b9b71d" stroke-width="2.0" fill="none" stroke-linejoin="round" stroke-dasharray="8 6"/>
<rect x="212.2" y="1206.2" width="6.4" height="6.4" rx="2.2" stroke="#b9b71d" stroke-width="1.7" fill="none"/>
<rect x="234.0" y="1203.2" width="6.4" height="6.4" rx="2.2" stroke="#b9b71d" stroke-width="1.7" fill="none"/>
<rect x="255.8" y="1203.2" width="6.4" height="6.4" rx="2.2" stroke="#b9b71d" stroke-width="1.7" fill="none"/>
<rect x="277.6" y="1197.8" width="6.4" height="6.4" rx="2.2" stroke="#b9b71d" stroke-width="1.7" fill="none"/>
<rect x="298.9" y="1199.4" width="6.4" height="6.4" rx="2.2" stroke="#b9b71d" stroke-width="1.7" fill="none"/>
<rect x="321.0" y="1197.2" width="6.4" height="6.4" rx="2.2" stroke="#b9b71d" stroke-width="1.7" fill="none"/>
<rect x="342.8" y="1197.2" width="6.4" height="6.4" rx="2.2" stroke="#b9b71d" stroke-width="1.7" fill="none"/>
<rect x="364.9" y="1186.3" width="6.4" height="6.4" rx="2.2" stroke="#b9b71d" stroke-width="1.7" fill="none"/>
<rect x="386.3" y="1178.3" width="6.4" height="6.4" rx="2.2" stroke="#b9b71d" stroke-width="1.7" fill="none"/>
<rect x="407.8" y="1163.3" width="6.4" height="6.4" rx="2.2" stroke="#b9b71d" stroke-width="1.7" fill="none"/>
<rect x="430.3" y="1143.3" width="6.4" height="6.4" rx="2.2" stroke="#b9b71d" stroke-width="1.7" fill="none"/>
<rect x="451.8" y="1128.3" width="6.4" height="6.4" rx="2.2" stroke="#b9b71d" stroke-width="1.7" fill="none"/>
<rect x="474.5" y="1093.2" width="6.4" height="6.4" rx="2.2" stroke="#b9b71d" stroke-width="1.7" fill="none"/>
<rect x="496.2" y="1034.5" width="6.4" height="6.4" rx="2.2" stroke="#b9b71d" stroke-width="1.7" fill="none"/>
<rect x="517.7" y="1014.8" width="6.4" height="6.4" rx="2.2" stroke="#b9b71d" stroke-width="1.7" fill="none"/>
<rect x="539.7" y="969.1" width="6.4" height="6.4" rx="2.2" stroke="#b9b71d" stroke-width="1.7" fill="none"/>
<rect x="561.1" y="908.2" width="6.4" height="6.4" rx="2.2" stroke="#b9b71d" stroke-width="1.7" fill="none"/>
<rect x="583.4" y="864.8" width="6.4" height="6.4" rx="2.2" stroke="#b9b71d" stroke-width="1.7" fill="none"/>
<path d="M514.8 912.2L517.3 938" stroke="#a8262e" stroke-width="2.1" stroke-linecap="round"/>
<path d="M511.4 935.5L517.5 948.6L521.8 935L517.4 939.2Z" fill="#dc1a20" stroke="#b0222a" stroke-width="0.8" stroke-linejoin="round"/>
</svg>
</body></html>
